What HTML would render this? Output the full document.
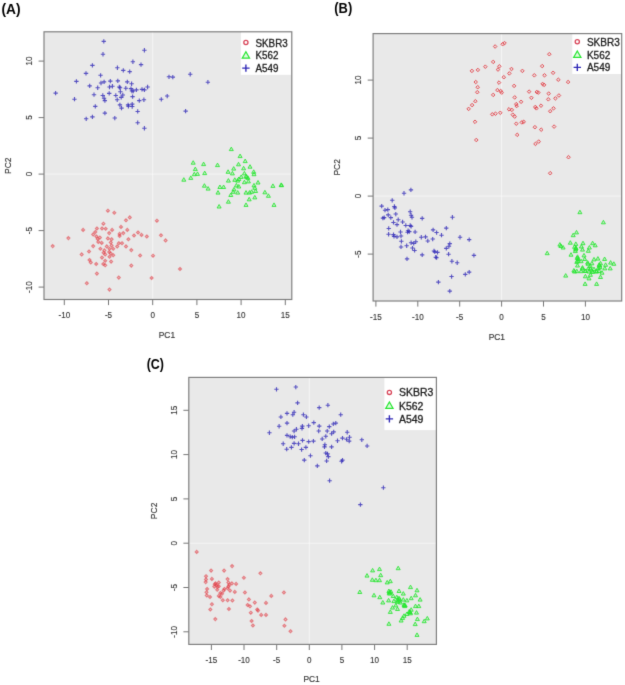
<!DOCTYPE html>
<html><head><meta charset="utf-8"><title>PCA</title>
<style>html,body{margin:0;padding:0;background:#fff}svg{display:block}</style>
</head><body>
<svg width="625" height="685" viewBox="0 0 625 685" font-family="Liberation Sans, sans-serif">
<defs><filter id="bl" x="0" y="0" width="100%" height="100%" filterUnits="userSpaceOnUse" color-interpolation-filters="sRGB"><feConvolveMatrix order="3" kernelMatrix="0.0113 0.0838 0.0113 0.0838 0.6193 0.0838 0.0113 0.0838 0.0113" edgeMode="duplicate" preserveAlpha="true"/></filter></defs>
<g filter="url(#bl)">
<rect x="-5" y="-5" width="635" height="695" fill="#fff"/>
<g>
<rect x="44" y="31.8" width="247.8" height="267.7" fill="#e9e9e9"/>
<path d="M152.7 31.8V299.5M44 174.1H291.8" stroke="#fff" stroke-width="0.7" stroke-opacity="0.8" fill="none"/>
<path d="M101.6 41.4H105.9M103.8 39.2V43.5" stroke="#2f28b6" stroke-width="1.10" stroke-opacity="0.8" fill="none"/>
<path d="M100.8 54.2H105.1M103.0 52.1V56.4" stroke="#2f28b6" stroke-width="1.10" stroke-opacity="0.8" fill="none"/>
<path d="M142.2 50.2H146.6M144.4 48.1V52.4" stroke="#2f28b6" stroke-width="1.10" stroke-opacity="0.8" fill="none"/>
<path d="M130.7 61.7H135.0M132.9 59.6V63.9" stroke="#2f28b6" stroke-width="1.10" stroke-opacity="0.8" fill="none"/>
<path d="M138.9 64.6H143.2M141.0 62.4V66.8" stroke="#2f28b6" stroke-width="1.10" stroke-opacity="0.8" fill="none"/>
<path d="M90.2 65.4H94.6M92.4 63.3V67.6" stroke="#2f28b6" stroke-width="1.10" stroke-opacity="0.8" fill="none"/>
<path d="M115.2 67.8H119.5M117.4 65.6V70.0" stroke="#2f28b6" stroke-width="1.10" stroke-opacity="0.8" fill="none"/>
<path d="M121.1 70.4H125.4M123.3 68.2V72.5" stroke="#2f28b6" stroke-width="1.10" stroke-opacity="0.8" fill="none"/>
<path d="M127.5 71.6H131.8M129.7 69.5V73.8" stroke="#2f28b6" stroke-width="1.10" stroke-opacity="0.8" fill="none"/>
<path d="M83.8 73.4H88.2M86.0 71.2V75.6" stroke="#2f28b6" stroke-width="1.10" stroke-opacity="0.8" fill="none"/>
<path d="M98.4 75.3H102.7M100.6 73.2V77.5" stroke="#2f28b6" stroke-width="1.10" stroke-opacity="0.8" fill="none"/>
<path d="M74.2 81.4H78.6M76.4 79.2V83.6" stroke="#2f28b6" stroke-width="1.10" stroke-opacity="0.8" fill="none"/>
<path d="M101.9 81.9H106.2M104.1 79.7V84.0" stroke="#2f28b6" stroke-width="1.10" stroke-opacity="0.8" fill="none"/>
<path d="M98.9 83.0H103.2M101.0 80.8V85.2" stroke="#2f28b6" stroke-width="1.10" stroke-opacity="0.8" fill="none"/>
<path d="M108.2 81.1H112.5M110.3 78.9V83.2" stroke="#2f28b6" stroke-width="1.10" stroke-opacity="0.8" fill="none"/>
<path d="M115.7 80.9H120.0M117.8 78.8V83.1" stroke="#2f28b6" stroke-width="1.10" stroke-opacity="0.8" fill="none"/>
<path d="M125.1 81.9H129.4M127.3 79.7V84.0" stroke="#2f28b6" stroke-width="1.10" stroke-opacity="0.8" fill="none"/>
<path d="M129.4 83.8H133.8M131.6 81.6V86.0" stroke="#2f28b6" stroke-width="1.10" stroke-opacity="0.8" fill="none"/>
<path d="M87.5 85.9H91.8M89.7 83.7V88.0" stroke="#2f28b6" stroke-width="1.10" stroke-opacity="0.8" fill="none"/>
<path d="M95.5 87.8H99.8M97.7 85.6V90.0" stroke="#2f28b6" stroke-width="1.10" stroke-opacity="0.8" fill="none"/>
<path d="M107.4 87.0H111.7M109.5 84.8V89.2" stroke="#2f28b6" stroke-width="1.10" stroke-opacity="0.8" fill="none"/>
<path d="M110.2 86.2H114.6M112.4 84.0V88.4" stroke="#2f28b6" stroke-width="1.10" stroke-opacity="0.8" fill="none"/>
<path d="M117.1 87.0H121.4M119.3 84.8V89.2" stroke="#2f28b6" stroke-width="1.10" stroke-opacity="0.8" fill="none"/>
<path d="M117.9 87.8H122.2M120.1 85.6V90.0" stroke="#2f28b6" stroke-width="1.10" stroke-opacity="0.8" fill="none"/>
<path d="M123.7 88.3H128.0M125.8 86.1V90.4" stroke="#2f28b6" stroke-width="1.10" stroke-opacity="0.8" fill="none"/>
<path d="M128.8 88.6H133.1M131.0 86.4V90.8" stroke="#2f28b6" stroke-width="1.10" stroke-opacity="0.8" fill="none"/>
<path d="M53.5 93.1H57.8M55.6 90.9V95.2" stroke="#2f28b6" stroke-width="1.10" stroke-opacity="0.8" fill="none"/>
<path d="M72.3 99.2H76.6M74.5 97.0V101.3" stroke="#2f28b6" stroke-width="1.10" stroke-opacity="0.8" fill="none"/>
<path d="M91.8 94.7H96.2M94.0 92.5V96.8" stroke="#2f28b6" stroke-width="1.10" stroke-opacity="0.8" fill="none"/>
<path d="M100.6 95.5H105.0M102.8 93.3V97.6" stroke="#2f28b6" stroke-width="1.10" stroke-opacity="0.8" fill="none"/>
<path d="M101.9 98.2H106.2M104.1 96.0V100.4" stroke="#2f28b6" stroke-width="1.10" stroke-opacity="0.8" fill="none"/>
<path d="M102.7 100.6H107.0M104.9 98.4V102.8" stroke="#2f28b6" stroke-width="1.10" stroke-opacity="0.8" fill="none"/>
<path d="M107.0 93.4H111.4M109.2 91.2V95.6" stroke="#2f28b6" stroke-width="1.10" stroke-opacity="0.8" fill="none"/>
<path d="M113.6 95.5H117.9M115.8 93.3V97.6" stroke="#2f28b6" stroke-width="1.10" stroke-opacity="0.8" fill="none"/>
<path d="M115.0 99.8H119.4M117.2 97.6V102.0" stroke="#2f28b6" stroke-width="1.10" stroke-opacity="0.8" fill="none"/>
<path d="M118.2 91.8H122.6M120.4 89.6V94.0" stroke="#2f28b6" stroke-width="1.10" stroke-opacity="0.8" fill="none"/>
<path d="M120.6 95.0H125.0M122.8 92.8V97.2" stroke="#2f28b6" stroke-width="1.10" stroke-opacity="0.8" fill="none"/>
<path d="M119.0 97.4H123.4M121.2 95.2V99.6" stroke="#2f28b6" stroke-width="1.10" stroke-opacity="0.8" fill="none"/>
<path d="M129.8 91.0H134.1M131.9 88.8V93.2" stroke="#2f28b6" stroke-width="1.10" stroke-opacity="0.8" fill="none"/>
<path d="M131.0 91.0H135.3M133.2 88.8V93.2" stroke="#2f28b6" stroke-width="1.10" stroke-opacity="0.8" fill="none"/>
<path d="M134.2 89.9H138.6M136.4 87.7V92.0" stroke="#2f28b6" stroke-width="1.10" stroke-opacity="0.8" fill="none"/>
<path d="M139.8 89.4H144.2M142.0 87.2V91.6" stroke="#2f28b6" stroke-width="1.10" stroke-opacity="0.8" fill="none"/>
<path d="M142.2 89.9H146.6M144.4 87.7V92.0" stroke="#2f28b6" stroke-width="1.10" stroke-opacity="0.8" fill="none"/>
<path d="M145.4 87.0H149.8M147.6 84.8V89.2" stroke="#2f28b6" stroke-width="1.10" stroke-opacity="0.8" fill="none"/>
<path d="M130.4 96.6H134.7M132.6 94.4V98.8" stroke="#2f28b6" stroke-width="1.10" stroke-opacity="0.8" fill="none"/>
<path d="M137.1 100.6H141.4M139.3 98.4V102.8" stroke="#2f28b6" stroke-width="1.10" stroke-opacity="0.8" fill="none"/>
<path d="M141.8 99.8H146.1M143.9 97.6V102.0" stroke="#2f28b6" stroke-width="1.10" stroke-opacity="0.8" fill="none"/>
<path d="M93.1 106.4H97.4M95.3 104.2V108.5" stroke="#2f28b6" stroke-width="1.10" stroke-opacity="0.8" fill="none"/>
<path d="M117.8 104.9H122.1M119.9 102.8V107.1" stroke="#2f28b6" stroke-width="1.10" stroke-opacity="0.8" fill="none"/>
<path d="M119.4 108.1H123.7M121.5 106.0V110.3" stroke="#2f28b6" stroke-width="1.10" stroke-opacity="0.8" fill="none"/>
<path d="M125.9 104.9H130.2M128.1 102.8V107.1" stroke="#2f28b6" stroke-width="1.10" stroke-opacity="0.8" fill="none"/>
<path d="M130.1 104.1H134.4M132.2 102.0V106.3" stroke="#2f28b6" stroke-width="1.10" stroke-opacity="0.8" fill="none"/>
<path d="M126.2 106.2H130.6M128.4 104.0V108.4" stroke="#2f28b6" stroke-width="1.10" stroke-opacity="0.8" fill="none"/>
<path d="M130.1 106.5H134.4M132.2 104.4V108.7" stroke="#2f28b6" stroke-width="1.10" stroke-opacity="0.8" fill="none"/>
<path d="M135.5 111.5H139.8M137.7 109.3V113.6" stroke="#2f28b6" stroke-width="1.10" stroke-opacity="0.8" fill="none"/>
<path d="M102.7 113.1H107.0M104.9 110.9V115.2" stroke="#2f28b6" stroke-width="1.10" stroke-opacity="0.8" fill="none"/>
<path d="M112.6 118.0H117.0M114.8 115.9V120.2" stroke="#2f28b6" stroke-width="1.10" stroke-opacity="0.8" fill="none"/>
<path d="M84.0 118.8H88.3M86.2 116.7V121.0" stroke="#2f28b6" stroke-width="1.10" stroke-opacity="0.8" fill="none"/>
<path d="M90.2 116.9H94.6M92.4 114.8V119.1" stroke="#2f28b6" stroke-width="1.10" stroke-opacity="0.8" fill="none"/>
<path d="M135.5 122.7H139.8M137.7 120.5V124.8" stroke="#2f28b6" stroke-width="1.10" stroke-opacity="0.8" fill="none"/>
<path d="M142.2 128.3H146.6M144.4 126.1V130.4" stroke="#2f28b6" stroke-width="1.10" stroke-opacity="0.8" fill="none"/>
<path d="M166.8 76.8H171.1M169.0 74.7V79.0" stroke="#2f28b6" stroke-width="1.10" stroke-opacity="0.8" fill="none"/>
<path d="M170.7 77.1H175.0M172.8 74.9V79.2" stroke="#2f28b6" stroke-width="1.10" stroke-opacity="0.8" fill="none"/>
<path d="M188.1 74.2H192.4M190.2 72.1V76.4" stroke="#2f28b6" stroke-width="1.10" stroke-opacity="0.8" fill="none"/>
<path d="M205.7 82.2H210.0M207.9 80.0V84.3" stroke="#2f28b6" stroke-width="1.10" stroke-opacity="0.8" fill="none"/>
<path d="M165.0 96.0H169.3M167.2 93.9V98.2" stroke="#2f28b6" stroke-width="1.10" stroke-opacity="0.8" fill="none"/>
<path d="M159.1 99.3H163.4M161.3 97.2V101.5" stroke="#2f28b6" stroke-width="1.10" stroke-opacity="0.8" fill="none"/>
<path d="M183.5 111.1H187.8M185.6 109.0V113.3" stroke="#2f28b6" stroke-width="1.10" stroke-opacity="0.8" fill="none"/>
<path d="M107.9 209.2L109.4 210.7L107.9 212.2L106.4 210.7Z" stroke="#e24048" stroke-width="1.10" stroke-opacity="0.62" fill="#e24048" fill-opacity="0.19"/>
<path d="M114.3 211.3L115.8 212.8L114.3 214.3L112.8 212.8Z" stroke="#e24048" stroke-width="1.10" stroke-opacity="0.62" fill="#e24048" fill-opacity="0.19"/>
<path d="M129.8 215.9L131.3 217.4L129.8 218.9L128.3 217.4Z" stroke="#e24048" stroke-width="1.10" stroke-opacity="0.62" fill="#e24048" fill-opacity="0.19"/>
<path d="M126.0 218.8L127.5 220.3L126.0 221.8L124.5 220.3Z" stroke="#e24048" stroke-width="1.10" stroke-opacity="0.62" fill="#e24048" fill-opacity="0.19"/>
<path d="M103.4 222.2L104.9 223.7L103.4 225.2L101.9 223.7Z" stroke="#e24048" stroke-width="1.10" stroke-opacity="0.62" fill="#e24048" fill-opacity="0.19"/>
<path d="M121.0 225.4L122.5 226.9L121.0 228.4L119.5 226.9Z" stroke="#e24048" stroke-width="1.10" stroke-opacity="0.62" fill="#e24048" fill-opacity="0.19"/>
<path d="M83.1 228.4L84.6 229.9L83.1 231.4L81.6 229.9Z" stroke="#e24048" stroke-width="1.10" stroke-opacity="0.62" fill="#e24048" fill-opacity="0.19"/>
<path d="M96.9 227.0L98.4 228.5L96.9 230.0L95.4 228.5Z" stroke="#e24048" stroke-width="1.10" stroke-opacity="0.62" fill="#e24048" fill-opacity="0.19"/>
<path d="M102.0 227.0L103.5 228.5L102.0 230.0L100.5 228.5Z" stroke="#e24048" stroke-width="1.10" stroke-opacity="0.62" fill="#e24048" fill-opacity="0.19"/>
<path d="M105.7 227.3L107.2 228.8L105.7 230.3L104.2 228.8Z" stroke="#e24048" stroke-width="1.10" stroke-opacity="0.62" fill="#e24048" fill-opacity="0.19"/>
<path d="M112.1 228.4L113.6 229.9L112.1 231.4L110.6 229.9Z" stroke="#e24048" stroke-width="1.10" stroke-opacity="0.62" fill="#e24048" fill-opacity="0.19"/>
<path d="M127.3 228.4L128.8 229.9L127.3 231.4L125.8 229.9Z" stroke="#e24048" stroke-width="1.10" stroke-opacity="0.62" fill="#e24048" fill-opacity="0.19"/>
<path d="M95.3 230.5L96.8 232.0L95.3 233.5L93.8 232.0Z" stroke="#e24048" stroke-width="1.10" stroke-opacity="0.62" fill="#e24048" fill-opacity="0.19"/>
<path d="M93.2 232.9L94.7 234.4L93.2 235.9L91.7 234.4Z" stroke="#e24048" stroke-width="1.10" stroke-opacity="0.62" fill="#e24048" fill-opacity="0.19"/>
<path d="M96.4 235.0L97.9 236.5L96.4 238.0L94.9 236.5Z" stroke="#e24048" stroke-width="1.10" stroke-opacity="0.62" fill="#e24048" fill-opacity="0.19"/>
<path d="M109.2 231.6L110.7 233.1L109.2 234.6L107.7 233.1Z" stroke="#e24048" stroke-width="1.10" stroke-opacity="0.62" fill="#e24048" fill-opacity="0.19"/>
<path d="M119.6 232.4L121.1 233.9L119.6 235.4L118.1 233.9Z" stroke="#e24048" stroke-width="1.10" stroke-opacity="0.62" fill="#e24048" fill-opacity="0.19"/>
<path d="M123.3 231.6L124.8 233.1L123.3 234.6L121.8 233.1Z" stroke="#e24048" stroke-width="1.10" stroke-opacity="0.62" fill="#e24048" fill-opacity="0.19"/>
<path d="M138.0 231.0L139.5 232.5L138.0 234.0L136.5 232.5Z" stroke="#e24048" stroke-width="1.10" stroke-opacity="0.62" fill="#e24048" fill-opacity="0.19"/>
<path d="M141.5 233.4L143.0 234.9L141.5 236.4L140.0 234.9Z" stroke="#e24048" stroke-width="1.10" stroke-opacity="0.62" fill="#e24048" fill-opacity="0.19"/>
<path d="M134.0 234.0L135.5 235.5L134.0 237.0L132.5 235.5Z" stroke="#e24048" stroke-width="1.10" stroke-opacity="0.62" fill="#e24048" fill-opacity="0.19"/>
<path d="M146.8 235.0L148.3 236.5L146.8 238.0L145.3 236.5Z" stroke="#e24048" stroke-width="1.10" stroke-opacity="0.62" fill="#e24048" fill-opacity="0.19"/>
<path d="M68.4 236.6L69.9 238.1L68.4 239.6L66.9 238.1Z" stroke="#e24048" stroke-width="1.10" stroke-opacity="0.62" fill="#e24048" fill-opacity="0.19"/>
<path d="M97.7 237.4L99.2 238.9L97.7 240.4L96.2 238.9Z" stroke="#e24048" stroke-width="1.10" stroke-opacity="0.62" fill="#e24048" fill-opacity="0.19"/>
<path d="M99.9 236.1L101.4 237.6L99.9 239.1L98.4 237.6Z" stroke="#e24048" stroke-width="1.10" stroke-opacity="0.62" fill="#e24048" fill-opacity="0.19"/>
<path d="M107.9 236.9L109.4 238.4L107.9 239.9L106.4 238.4Z" stroke="#e24048" stroke-width="1.10" stroke-opacity="0.62" fill="#e24048" fill-opacity="0.19"/>
<path d="M111.6 237.7L113.1 239.2L111.6 240.7L110.1 239.2Z" stroke="#e24048" stroke-width="1.10" stroke-opacity="0.62" fill="#e24048" fill-opacity="0.19"/>
<path d="M119.6 234.5L121.1 236.0L119.6 237.5L118.1 236.0Z" stroke="#e24048" stroke-width="1.10" stroke-opacity="0.62" fill="#e24048" fill-opacity="0.19"/>
<path d="M128.4 237.7L129.9 239.2L128.4 240.7L126.9 239.2Z" stroke="#e24048" stroke-width="1.10" stroke-opacity="0.62" fill="#e24048" fill-opacity="0.19"/>
<path d="M98.3 240.4L99.8 241.9L98.3 243.4L96.8 241.9Z" stroke="#e24048" stroke-width="1.10" stroke-opacity="0.62" fill="#e24048" fill-opacity="0.19"/>
<path d="M101.7 241.4L103.2 242.9L101.7 244.4L100.2 242.9Z" stroke="#e24048" stroke-width="1.10" stroke-opacity="0.62" fill="#e24048" fill-opacity="0.19"/>
<path d="M110.8 240.9L112.3 242.4L110.8 243.9L109.3 242.4Z" stroke="#e24048" stroke-width="1.10" stroke-opacity="0.62" fill="#e24048" fill-opacity="0.19"/>
<path d="M118.8 241.7L120.3 243.2L118.8 244.7L117.3 243.2Z" stroke="#e24048" stroke-width="1.10" stroke-opacity="0.62" fill="#e24048" fill-opacity="0.19"/>
<path d="M122.0 241.7L123.5 243.2L122.0 244.7L120.5 243.2Z" stroke="#e24048" stroke-width="1.10" stroke-opacity="0.62" fill="#e24048" fill-opacity="0.19"/>
<path d="M52.7 244.6L54.2 246.1L52.7 247.6L51.2 246.1Z" stroke="#e24048" stroke-width="1.10" stroke-opacity="0.62" fill="#e24048" fill-opacity="0.19"/>
<path d="M93.2 244.6L94.7 246.1L93.2 247.6L91.7 246.1Z" stroke="#e24048" stroke-width="1.10" stroke-opacity="0.62" fill="#e24048" fill-opacity="0.19"/>
<path d="M106.8 244.9L108.3 246.4L106.8 247.9L105.3 246.4Z" stroke="#e24048" stroke-width="1.10" stroke-opacity="0.62" fill="#e24048" fill-opacity="0.19"/>
<path d="M111.6 244.1L113.1 245.6L111.6 247.1L110.1 245.6Z" stroke="#e24048" stroke-width="1.10" stroke-opacity="0.62" fill="#e24048" fill-opacity="0.19"/>
<path d="M117.2 244.9L118.7 246.4L117.2 247.9L115.7 246.4Z" stroke="#e24048" stroke-width="1.10" stroke-opacity="0.62" fill="#e24048" fill-opacity="0.19"/>
<path d="M126.0 244.9L127.5 246.4L126.0 247.9L124.5 246.4Z" stroke="#e24048" stroke-width="1.10" stroke-opacity="0.62" fill="#e24048" fill-opacity="0.19"/>
<path d="M100.4 247.3L101.9 248.8L100.4 250.3L98.9 248.8Z" stroke="#e24048" stroke-width="1.10" stroke-opacity="0.62" fill="#e24048" fill-opacity="0.19"/>
<path d="M104.4 248.9L105.9 250.4L104.4 251.9L102.9 250.4Z" stroke="#e24048" stroke-width="1.10" stroke-opacity="0.62" fill="#e24048" fill-opacity="0.19"/>
<path d="M109.5 247.3L111.0 248.8L109.5 250.3L108.0 248.8Z" stroke="#e24048" stroke-width="1.10" stroke-opacity="0.62" fill="#e24048" fill-opacity="0.19"/>
<path d="M113.2 247.3L114.7 248.8L113.2 250.3L111.7 248.8Z" stroke="#e24048" stroke-width="1.10" stroke-opacity="0.62" fill="#e24048" fill-opacity="0.19"/>
<path d="M131.3 248.6L132.8 250.1L131.3 251.6L129.8 250.1Z" stroke="#e24048" stroke-width="1.10" stroke-opacity="0.62" fill="#e24048" fill-opacity="0.19"/>
<path d="M89.0 250.0L90.5 251.5L89.0 253.0L87.5 251.5Z" stroke="#e24048" stroke-width="1.10" stroke-opacity="0.62" fill="#e24048" fill-opacity="0.19"/>
<path d="M103.6 251.3L105.1 252.8L103.6 254.3L102.1 252.8Z" stroke="#e24048" stroke-width="1.10" stroke-opacity="0.62" fill="#e24048" fill-opacity="0.19"/>
<path d="M109.2 250.5L110.7 252.0L109.2 253.5L107.7 252.0Z" stroke="#e24048" stroke-width="1.10" stroke-opacity="0.62" fill="#e24048" fill-opacity="0.19"/>
<path d="M110.8 252.1L112.3 253.6L110.8 255.1L109.3 253.6Z" stroke="#e24048" stroke-width="1.10" stroke-opacity="0.62" fill="#e24048" fill-opacity="0.19"/>
<path d="M81.7 252.9L83.2 254.4L81.7 255.9L80.2 254.4Z" stroke="#e24048" stroke-width="1.10" stroke-opacity="0.62" fill="#e24048" fill-opacity="0.19"/>
<path d="M105.2 252.9L106.7 254.4L105.2 255.9L103.7 254.4Z" stroke="#e24048" stroke-width="1.10" stroke-opacity="0.62" fill="#e24048" fill-opacity="0.19"/>
<path d="M113.2 253.7L114.7 255.2L113.2 256.7L111.7 255.2Z" stroke="#e24048" stroke-width="1.10" stroke-opacity="0.62" fill="#e24048" fill-opacity="0.19"/>
<path d="M109.5 255.3L111.0 256.8L109.5 258.3L108.0 256.8Z" stroke="#e24048" stroke-width="1.10" stroke-opacity="0.62" fill="#e24048" fill-opacity="0.19"/>
<path d="M102.0 256.1L103.5 257.6L102.0 259.1L100.5 257.6Z" stroke="#e24048" stroke-width="1.10" stroke-opacity="0.62" fill="#e24048" fill-opacity="0.19"/>
<path d="M140.1 254.0L141.6 255.5L140.1 257.0L138.6 255.5Z" stroke="#e24048" stroke-width="1.10" stroke-opacity="0.62" fill="#e24048" fill-opacity="0.19"/>
<path d="M89.5 258.5L91.0 260.0L89.5 261.5L88.0 260.0Z" stroke="#e24048" stroke-width="1.10" stroke-opacity="0.62" fill="#e24048" fill-opacity="0.19"/>
<path d="M90.8 260.9L92.3 262.4L90.8 263.9L89.3 262.4Z" stroke="#e24048" stroke-width="1.10" stroke-opacity="0.62" fill="#e24048" fill-opacity="0.19"/>
<path d="M105.2 259.3L106.7 260.8L105.2 262.3L103.7 260.8Z" stroke="#e24048" stroke-width="1.10" stroke-opacity="0.62" fill="#e24048" fill-opacity="0.19"/>
<path d="M111.1 260.1L112.6 261.6L111.1 263.1L109.6 261.6Z" stroke="#e24048" stroke-width="1.10" stroke-opacity="0.62" fill="#e24048" fill-opacity="0.19"/>
<path d="M96.2 262.5L97.7 264.0L96.2 265.5L94.7 264.0Z" stroke="#e24048" stroke-width="1.10" stroke-opacity="0.62" fill="#e24048" fill-opacity="0.19"/>
<path d="M103.3 262.5L104.8 264.0L103.3 265.5L101.8 264.0Z" stroke="#e24048" stroke-width="1.10" stroke-opacity="0.62" fill="#e24048" fill-opacity="0.19"/>
<path d="M105.2 263.8L106.7 265.3L105.2 266.8L103.7 265.3Z" stroke="#e24048" stroke-width="1.10" stroke-opacity="0.62" fill="#e24048" fill-opacity="0.19"/>
<path d="M131.3 264.1L132.8 265.6L131.3 267.1L129.8 265.6Z" stroke="#e24048" stroke-width="1.10" stroke-opacity="0.62" fill="#e24048" fill-opacity="0.19"/>
<path d="M96.9 272.1L98.4 273.6L96.9 275.1L95.4 273.6Z" stroke="#e24048" stroke-width="1.10" stroke-opacity="0.62" fill="#e24048" fill-opacity="0.19"/>
<path d="M118.8 276.1L120.3 277.6L118.8 279.1L117.3 277.6Z" stroke="#e24048" stroke-width="1.10" stroke-opacity="0.62" fill="#e24048" fill-opacity="0.19"/>
<path d="M86.8 281.7L88.3 283.2L86.8 284.7L85.3 283.2Z" stroke="#e24048" stroke-width="1.10" stroke-opacity="0.62" fill="#e24048" fill-opacity="0.19"/>
<path d="M109.5 288.1L111.0 289.6L109.5 291.1L108.0 289.6Z" stroke="#e24048" stroke-width="1.10" stroke-opacity="0.62" fill="#e24048" fill-opacity="0.19"/>
<path d="M156.9 219.2L158.4 220.7L156.9 222.2L155.4 220.7Z" stroke="#e24048" stroke-width="1.10" stroke-opacity="0.62" fill="#e24048" fill-opacity="0.19"/>
<path d="M161.0 233.8L162.5 235.3L161.0 236.8L159.5 235.3Z" stroke="#e24048" stroke-width="1.10" stroke-opacity="0.62" fill="#e24048" fill-opacity="0.19"/>
<path d="M165.6 238.9L167.1 240.4L165.6 241.9L164.1 240.4Z" stroke="#e24048" stroke-width="1.10" stroke-opacity="0.62" fill="#e24048" fill-opacity="0.19"/>
<path d="M180.0 267.5L181.5 269.0L180.0 270.5L178.5 269.0Z" stroke="#e24048" stroke-width="1.10" stroke-opacity="0.62" fill="#e24048" fill-opacity="0.19"/>
<path d="M153.0 254.2L154.5 255.7L153.0 257.2L151.5 255.7Z" stroke="#e24048" stroke-width="1.10" stroke-opacity="0.62" fill="#e24048" fill-opacity="0.19"/>
<path d="M151.6 276.5L153.1 278.0L151.6 279.5L150.1 278.0Z" stroke="#e24048" stroke-width="1.10" stroke-opacity="0.62" fill="#e24048" fill-opacity="0.19"/>
<path d="M231.3 147.1L233.3 150.6H229.3Z" stroke="#26e630" stroke-width="1.00" stroke-opacity="0.85" fill="#26e630" fill-opacity="0.20"/>
<path d="M240.1 154.1L242.1 157.6H238.1Z" stroke="#26e630" stroke-width="1.00" stroke-opacity="0.85" fill="#26e630" fill-opacity="0.20"/>
<path d="M245.2 159.1L247.2 162.6H243.2Z" stroke="#26e630" stroke-width="1.00" stroke-opacity="0.85" fill="#26e630" fill-opacity="0.20"/>
<path d="M193.2 160.7L195.2 164.2H191.2Z" stroke="#26e630" stroke-width="1.00" stroke-opacity="0.85" fill="#26e630" fill-opacity="0.20"/>
<path d="M203.6 162.1L205.6 165.6H201.6Z" stroke="#26e630" stroke-width="1.00" stroke-opacity="0.85" fill="#26e630" fill-opacity="0.20"/>
<path d="M217.5 163.1L219.5 166.6H215.5Z" stroke="#26e630" stroke-width="1.00" stroke-opacity="0.85" fill="#26e630" fill-opacity="0.20"/>
<path d="M238.5 162.3L240.5 165.8H236.5Z" stroke="#26e630" stroke-width="1.00" stroke-opacity="0.85" fill="#26e630" fill-opacity="0.20"/>
<path d="M250.0 164.7L252.0 168.2H248.0Z" stroke="#26e630" stroke-width="1.00" stroke-opacity="0.85" fill="#26e630" fill-opacity="0.20"/>
<path d="M195.3 167.1L197.3 170.6H193.3Z" stroke="#26e630" stroke-width="1.00" stroke-opacity="0.85" fill="#26e630" fill-opacity="0.20"/>
<path d="M233.7 166.6L235.7 170.1H231.7Z" stroke="#26e630" stroke-width="1.00" stroke-opacity="0.85" fill="#26e630" fill-opacity="0.20"/>
<path d="M243.6 166.3L245.6 169.8H241.6Z" stroke="#26e630" stroke-width="1.00" stroke-opacity="0.85" fill="#26e630" fill-opacity="0.20"/>
<path d="M228.1 169.8L230.1 173.3H226.1Z" stroke="#26e630" stroke-width="1.00" stroke-opacity="0.85" fill="#26e630" fill-opacity="0.20"/>
<path d="M204.7 171.1L206.7 174.6H202.7Z" stroke="#26e630" stroke-width="1.00" stroke-opacity="0.85" fill="#26e630" fill-opacity="0.20"/>
<path d="M253.7 169.8L255.7 173.3H251.7Z" stroke="#26e630" stroke-width="1.00" stroke-opacity="0.85" fill="#26e630" fill-opacity="0.20"/>
<path d="M197.5 171.9L199.5 175.4H195.5Z" stroke="#26e630" stroke-width="1.00" stroke-opacity="0.85" fill="#26e630" fill-opacity="0.20"/>
<path d="M194.3 172.2L196.3 175.7H192.3Z" stroke="#26e630" stroke-width="1.00" stroke-opacity="0.85" fill="#26e630" fill-opacity="0.20"/>
<path d="M232.4 171.4L234.4 174.9H230.4Z" stroke="#26e630" stroke-width="1.00" stroke-opacity="0.85" fill="#26e630" fill-opacity="0.20"/>
<path d="M244.4 171.4L246.4 174.9H242.4Z" stroke="#26e630" stroke-width="1.00" stroke-opacity="0.85" fill="#26e630" fill-opacity="0.20"/>
<path d="M254.0 172.2L256.0 175.7H252.0Z" stroke="#26e630" stroke-width="1.00" stroke-opacity="0.85" fill="#26e630" fill-opacity="0.20"/>
<path d="M190.8 175.9L192.8 179.4H188.8Z" stroke="#26e630" stroke-width="1.00" stroke-opacity="0.85" fill="#26e630" fill-opacity="0.20"/>
<path d="M241.2 174.9L243.2 178.4H239.2Z" stroke="#26e630" stroke-width="1.00" stroke-opacity="0.85" fill="#26e630" fill-opacity="0.20"/>
<path d="M246.8 174.9L248.8 178.4H244.8Z" stroke="#26e630" stroke-width="1.00" stroke-opacity="0.85" fill="#26e630" fill-opacity="0.20"/>
<path d="M247.9 175.9L249.9 179.4H245.9Z" stroke="#26e630" stroke-width="1.00" stroke-opacity="0.85" fill="#26e630" fill-opacity="0.20"/>
<path d="M246.0 174.3L248.0 177.8H244.0Z" stroke="#26e630" stroke-width="1.00" stroke-opacity="0.85" fill="#26e630" fill-opacity="0.20"/>
<path d="M238.8 177.0L240.8 180.5H236.8Z" stroke="#26e630" stroke-width="1.00" stroke-opacity="0.85" fill="#26e630" fill-opacity="0.20"/>
<path d="M237.7 178.6L239.7 182.1H235.7Z" stroke="#26e630" stroke-width="1.00" stroke-opacity="0.85" fill="#26e630" fill-opacity="0.20"/>
<path d="M228.4 178.6L230.4 182.1H226.4Z" stroke="#26e630" stroke-width="1.00" stroke-opacity="0.85" fill="#26e630" fill-opacity="0.20"/>
<path d="M234.8 177.8L236.8 181.3H232.8Z" stroke="#26e630" stroke-width="1.00" stroke-opacity="0.85" fill="#26e630" fill-opacity="0.20"/>
<path d="M244.4 180.2L246.4 183.7H242.4Z" stroke="#26e630" stroke-width="1.00" stroke-opacity="0.85" fill="#26e630" fill-opacity="0.20"/>
<path d="M248.4 179.4L250.4 182.9H246.4Z" stroke="#26e630" stroke-width="1.00" stroke-opacity="0.85" fill="#26e630" fill-opacity="0.20"/>
<path d="M258.0 180.5L260.0 184.0H256.0Z" stroke="#26e630" stroke-width="1.00" stroke-opacity="0.85" fill="#26e630" fill-opacity="0.20"/>
<path d="M204.4 183.7L206.4 187.2H202.4Z" stroke="#26e630" stroke-width="1.00" stroke-opacity="0.85" fill="#26e630" fill-opacity="0.20"/>
<path d="M208.1 186.6L210.1 190.1H206.1Z" stroke="#26e630" stroke-width="1.00" stroke-opacity="0.85" fill="#26e630" fill-opacity="0.20"/>
<path d="M219.9 185.0L221.9 188.5H217.9Z" stroke="#26e630" stroke-width="1.00" stroke-opacity="0.85" fill="#26e630" fill-opacity="0.20"/>
<path d="M223.6 185.0L225.6 188.5H221.6Z" stroke="#26e630" stroke-width="1.00" stroke-opacity="0.85" fill="#26e630" fill-opacity="0.20"/>
<path d="M236.4 183.4L238.4 186.9H234.4Z" stroke="#26e630" stroke-width="1.00" stroke-opacity="0.85" fill="#26e630" fill-opacity="0.20"/>
<path d="M238.8 184.5L240.8 188.0H236.8Z" stroke="#26e630" stroke-width="1.00" stroke-opacity="0.85" fill="#26e630" fill-opacity="0.20"/>
<path d="M254.0 183.4L256.0 186.9H252.0Z" stroke="#26e630" stroke-width="1.00" stroke-opacity="0.85" fill="#26e630" fill-opacity="0.20"/>
<path d="M254.8 185.8L256.8 189.3H252.8Z" stroke="#26e630" stroke-width="1.00" stroke-opacity="0.85" fill="#26e630" fill-opacity="0.20"/>
<path d="M272.9 183.9L274.9 187.4H270.9Z" stroke="#26e630" stroke-width="1.00" stroke-opacity="0.85" fill="#26e630" fill-opacity="0.20"/>
<path d="M281.2 182.9L283.2 186.4H279.2Z" stroke="#26e630" stroke-width="1.00" stroke-opacity="0.85" fill="#26e630" fill-opacity="0.20"/>
<path d="M281.5 183.2L283.5 186.7H279.5Z" stroke="#26e630" stroke-width="1.00" stroke-opacity="0.85" fill="#26e630" fill-opacity="0.20"/>
<path d="M234.0 187.4L236.0 190.9H232.0Z" stroke="#26e630" stroke-width="1.00" stroke-opacity="0.85" fill="#26e630" fill-opacity="0.20"/>
<path d="M218.0 190.6L220.0 194.1H216.0Z" stroke="#26e630" stroke-width="1.00" stroke-opacity="0.85" fill="#26e630" fill-opacity="0.20"/>
<path d="M230.8 193.0L232.8 196.5H228.8Z" stroke="#26e630" stroke-width="1.00" stroke-opacity="0.85" fill="#26e630" fill-opacity="0.20"/>
<path d="M233.2 189.8L235.2 193.3H231.2Z" stroke="#26e630" stroke-width="1.00" stroke-opacity="0.85" fill="#26e630" fill-opacity="0.20"/>
<path d="M237.7 190.6L239.7 194.1H235.7Z" stroke="#26e630" stroke-width="1.00" stroke-opacity="0.85" fill="#26e630" fill-opacity="0.20"/>
<path d="M246.0 190.6L248.0 194.1H244.0Z" stroke="#26e630" stroke-width="1.00" stroke-opacity="0.85" fill="#26e630" fill-opacity="0.20"/>
<path d="M249.5 190.6L251.5 194.1H247.5Z" stroke="#26e630" stroke-width="1.00" stroke-opacity="0.85" fill="#26e630" fill-opacity="0.20"/>
<path d="M251.6 189.8L253.6 193.3H249.6Z" stroke="#26e630" stroke-width="1.00" stroke-opacity="0.85" fill="#26e630" fill-opacity="0.20"/>
<path d="M255.6 189.0L257.6 192.5H253.6Z" stroke="#26e630" stroke-width="1.00" stroke-opacity="0.85" fill="#26e630" fill-opacity="0.20"/>
<path d="M264.9 190.3L266.9 193.8H262.9Z" stroke="#26e630" stroke-width="1.00" stroke-opacity="0.85" fill="#26e630" fill-opacity="0.20"/>
<path d="M268.4 193.8L270.4 197.3H266.4Z" stroke="#26e630" stroke-width="1.00" stroke-opacity="0.85" fill="#26e630" fill-opacity="0.20"/>
<path d="M254.8 195.4L256.8 198.9H252.8Z" stroke="#26e630" stroke-width="1.00" stroke-opacity="0.85" fill="#26e630" fill-opacity="0.20"/>
<path d="M249.2 197.3L251.2 200.8H247.2Z" stroke="#26e630" stroke-width="1.00" stroke-opacity="0.85" fill="#26e630" fill-opacity="0.20"/>
<path d="M228.4 199.7L230.4 203.2H226.4Z" stroke="#26e630" stroke-width="1.00" stroke-opacity="0.85" fill="#26e630" fill-opacity="0.20"/>
<path d="M219.1 204.5L221.1 208.0H217.1Z" stroke="#26e630" stroke-width="1.00" stroke-opacity="0.85" fill="#26e630" fill-opacity="0.20"/>
<path d="M246.0 202.9L248.0 206.4H244.0Z" stroke="#26e630" stroke-width="1.00" stroke-opacity="0.85" fill="#26e630" fill-opacity="0.20"/>
<path d="M274.0 202.9L276.0 206.4H272.0Z" stroke="#26e630" stroke-width="1.00" stroke-opacity="0.85" fill="#26e630" fill-opacity="0.20"/>
<path d="M183.8 177.7L185.8 181.2H181.8Z" stroke="#26e630" stroke-width="1.00" stroke-opacity="0.85" fill="#26e630" fill-opacity="0.20"/>
<path d="M64.3 299.5v5.6M108.5 299.5v5.6M152.7 299.5v5.6M196.9 299.5v5.6M241.1 299.5v5.6M285.3 299.5v5.6M44 287.1h-5.4M44 230.6h-5.4M44 174.1h-5.4M44 117.6h-5.4M44 61.1h-5.4" stroke="#686868" stroke-width="0.9" fill="none"/>
<text transform="translate(64.3 317.7) scale(0.9 1)" font-size="9" fill="#333333" stroke="#333333" stroke-width="0.12" text-anchor="middle">-10</text>
<text transform="translate(108.5 317.7) scale(0.9 1)" font-size="9" fill="#333333" stroke="#333333" stroke-width="0.12" text-anchor="middle">-5</text>
<text transform="translate(152.7 317.7) scale(0.9 1)" font-size="9" fill="#333333" stroke="#333333" stroke-width="0.12" text-anchor="middle">0</text>
<text transform="translate(196.9 317.7) scale(0.9 1)" font-size="9" fill="#333333" stroke="#333333" stroke-width="0.12" text-anchor="middle">5</text>
<text transform="translate(241.1 317.7) scale(0.9 1)" font-size="9" fill="#333333" stroke="#333333" stroke-width="0.12" text-anchor="middle">10</text>
<text transform="translate(285.3 317.7) scale(0.9 1)" font-size="9" fill="#333333" stroke="#333333" stroke-width="0.12" text-anchor="middle">15</text>
<text transform="translate(32.2 287.1) rotate(-90) scale(0.9 1)" font-size="9" fill="#333333" stroke="#333333" stroke-width="0.12" text-anchor="middle">-10</text>
<text transform="translate(32.2 230.6) rotate(-90) scale(0.9 1)" font-size="9" fill="#333333" stroke="#333333" stroke-width="0.12" text-anchor="middle">-5</text>
<text transform="translate(32.2 174.1) rotate(-90) scale(0.9 1)" font-size="9" fill="#333333" stroke="#333333" stroke-width="0.12" text-anchor="middle">0</text>
<text transform="translate(32.2 117.6) rotate(-90) scale(0.9 1)" font-size="9" fill="#333333" stroke="#333333" stroke-width="0.12" text-anchor="middle">5</text>
<text transform="translate(32.2 61.1) rotate(-90) scale(0.9 1)" font-size="9" fill="#333333" stroke="#333333" stroke-width="0.12" text-anchor="middle">10</text>
<text x="166.9" y="337.8" font-size="8.4" fill="#333333" stroke="#333333" stroke-width="0.15" text-anchor="middle">PC1</text>
<text transform="translate(11.0 165.7) rotate(-90)" font-size="8.5" fill="#333333" stroke="#333333" stroke-width="0.15" text-anchor="middle">PC2</text>
<rect x="240.9" y="31.8" width="50.2" height="43" fill="#fff"/>
<circle cx="245.9" cy="42.5" r="2.10" stroke="#d84458" stroke-width="1.30" fill="none"/>
<text transform="translate(255.5 46.5) scale(0.985 1)" font-size="10" fill="#1c1c1c" stroke="#1c1c1c" stroke-width="0.3">SKBR3</text>
<path d="M245.9 51.7L249.5 58.0H242.3Z" stroke="#26e630" stroke-width="1.25" stroke-opacity="1" fill="#26e630" fill-opacity="0.15"/>
<text transform="translate(255.5 59.3) scale(0.985 1)" font-size="10" fill="#1c1c1c" stroke="#1c1c1c" stroke-width="0.3">K562</text>
<path d="M242.2 68.1H249.6M245.9 64.4V71.8" stroke="#2f28b6" stroke-width="1.38" stroke-opacity="1" fill="none"/>
<text transform="translate(255.5 72.1) scale(0.985 1)" font-size="10" fill="#1c1c1c" stroke="#1c1c1c" stroke-width="0.3">A549</text>
<rect x="44" y="31.8" width="247.8" height="267.7" fill="none" stroke="#7c7c7c" stroke-width="1.15"/>
<text x="1.4" y="14.0" font-size="14" font-weight="bold" fill="#000" textLength="19.1" lengthAdjust="spacingAndGlyphs">(A)</text>
</g>
<g>
<rect x="373.1" y="33.6" width="248.6" height="267.4" fill="#e9e9e9"/>
<path d="M501.6 33.6V301.0M373.1 196.1H621.7" stroke="#fff" stroke-width="0.7" stroke-opacity="0.8" fill="none"/>
<path d="M495.1 44.7L496.9 46.5L495.1 48.3L493.4 46.5Z" stroke="#e24048" stroke-width="1.00" stroke-opacity="0.9" fill="#e24048" fill-opacity="0.07"/>
<path d="M502.6 42.4L504.4 44.2L502.6 46.0L500.8 44.2Z" stroke="#e24048" stroke-width="1.00" stroke-opacity="0.9" fill="#e24048" fill-opacity="0.07"/>
<path d="M504.5 41.3L506.3 43.1L504.5 44.8L502.8 43.1Z" stroke="#e24048" stroke-width="1.00" stroke-opacity="0.9" fill="#e24048" fill-opacity="0.07"/>
<path d="M549.3 52.4L551.1 54.2L549.3 56.0L547.5 54.2Z" stroke="#e24048" stroke-width="1.00" stroke-opacity="0.9" fill="#e24048" fill-opacity="0.07"/>
<path d="M493.2 60.1L495.0 61.9L493.2 63.7L491.4 61.9Z" stroke="#e24048" stroke-width="1.00" stroke-opacity="0.9" fill="#e24048" fill-opacity="0.07"/>
<path d="M485.3 64.9L487.1 66.7L485.3 68.5L483.6 66.7Z" stroke="#e24048" stroke-width="1.00" stroke-opacity="0.9" fill="#e24048" fill-opacity="0.07"/>
<path d="M499.4 64.5L501.1 66.3L499.4 68.1L497.6 66.3Z" stroke="#e24048" stroke-width="1.00" stroke-opacity="0.9" fill="#e24048" fill-opacity="0.07"/>
<path d="M498.0 67.8L499.8 69.6L498.0 71.3L496.2 69.6Z" stroke="#e24048" stroke-width="1.00" stroke-opacity="0.9" fill="#e24048" fill-opacity="0.07"/>
<path d="M471.9 69.1L473.7 70.9L471.9 72.7L470.1 70.9Z" stroke="#e24048" stroke-width="1.00" stroke-opacity="0.9" fill="#e24048" fill-opacity="0.07"/>
<path d="M477.9 68.2L479.6 69.9L477.9 71.7L476.1 69.9Z" stroke="#e24048" stroke-width="1.00" stroke-opacity="0.9" fill="#e24048" fill-opacity="0.07"/>
<path d="M511.5 67.2L513.2 69.0L511.5 70.8L509.7 69.0Z" stroke="#e24048" stroke-width="1.00" stroke-opacity="0.9" fill="#e24048" fill-opacity="0.07"/>
<path d="M522.4 69.1L524.2 70.9L522.4 72.7L520.6 70.9Z" stroke="#e24048" stroke-width="1.00" stroke-opacity="0.9" fill="#e24048" fill-opacity="0.07"/>
<path d="M542.2 64.3L544.0 66.1L542.2 67.9L540.4 66.1Z" stroke="#e24048" stroke-width="1.00" stroke-opacity="0.9" fill="#e24048" fill-opacity="0.07"/>
<path d="M553.1 71.0L554.9 72.8L553.1 74.6L551.3 72.8Z" stroke="#e24048" stroke-width="1.00" stroke-opacity="0.9" fill="#e24048" fill-opacity="0.07"/>
<path d="M509.3 71.6L511.1 73.4L509.3 75.2L507.6 73.4Z" stroke="#e24048" stroke-width="1.00" stroke-opacity="0.9" fill="#e24048" fill-opacity="0.07"/>
<path d="M534.3 73.5L536.1 75.3L534.3 77.1L532.5 75.3Z" stroke="#e24048" stroke-width="1.00" stroke-opacity="0.9" fill="#e24048" fill-opacity="0.07"/>
<path d="M544.5 73.5L546.3 75.3L544.5 77.1L542.7 75.3Z" stroke="#e24048" stroke-width="1.00" stroke-opacity="0.9" fill="#e24048" fill-opacity="0.07"/>
<path d="M503.8 75.5L505.6 77.2L503.8 79.0L502.0 77.2Z" stroke="#e24048" stroke-width="1.00" stroke-opacity="0.9" fill="#e24048" fill-opacity="0.07"/>
<path d="M558.3 78.0L560.1 79.7L558.3 81.5L556.5 79.7Z" stroke="#e24048" stroke-width="1.00" stroke-opacity="0.9" fill="#e24048" fill-opacity="0.07"/>
<path d="M568.1 80.3L569.9 82.0L568.1 83.8L566.3 82.0Z" stroke="#e24048" stroke-width="1.00" stroke-opacity="0.9" fill="#e24048" fill-opacity="0.07"/>
<path d="M475.7 80.3L477.5 82.0L475.7 83.8L474.0 82.0Z" stroke="#e24048" stroke-width="1.00" stroke-opacity="0.9" fill="#e24048" fill-opacity="0.07"/>
<path d="M499.0 80.8L500.8 82.6L499.0 84.4L497.2 82.6Z" stroke="#e24048" stroke-width="1.00" stroke-opacity="0.9" fill="#e24048" fill-opacity="0.07"/>
<path d="M542.6 82.2L544.4 84.0L542.6 85.7L540.8 84.0Z" stroke="#e24048" stroke-width="1.00" stroke-opacity="0.9" fill="#e24048" fill-opacity="0.07"/>
<path d="M544.1 83.1L545.9 84.9L544.1 86.7L542.3 84.9Z" stroke="#e24048" stroke-width="1.00" stroke-opacity="0.9" fill="#e24048" fill-opacity="0.07"/>
<path d="M477.7 85.4L479.5 87.2L477.7 89.0L475.9 87.2Z" stroke="#e24048" stroke-width="1.00" stroke-opacity="0.9" fill="#e24048" fill-opacity="0.07"/>
<path d="M514.1 84.1L515.9 85.9L514.1 87.7L512.4 85.9Z" stroke="#e24048" stroke-width="1.00" stroke-opacity="0.9" fill="#e24048" fill-opacity="0.07"/>
<path d="M497.4 88.3L499.2 90.1L497.4 91.9L495.7 90.1Z" stroke="#e24048" stroke-width="1.00" stroke-opacity="0.9" fill="#e24048" fill-opacity="0.07"/>
<path d="M500.7 89.3L502.5 91.1L500.7 92.9L498.9 91.1Z" stroke="#e24048" stroke-width="1.00" stroke-opacity="0.9" fill="#e24048" fill-opacity="0.07"/>
<path d="M501.7 90.8L503.5 92.6L501.7 94.4L499.9 92.6Z" stroke="#e24048" stroke-width="1.00" stroke-opacity="0.9" fill="#e24048" fill-opacity="0.07"/>
<path d="M477.3 90.4L479.1 92.2L477.3 94.0L475.5 92.2Z" stroke="#e24048" stroke-width="1.00" stroke-opacity="0.9" fill="#e24048" fill-opacity="0.07"/>
<path d="M529.1 89.9L530.9 91.6L529.1 93.4L527.3 91.6Z" stroke="#e24048" stroke-width="1.00" stroke-opacity="0.9" fill="#e24048" fill-opacity="0.07"/>
<path d="M536.8 90.2L538.6 92.0L536.8 93.8L535.0 92.0Z" stroke="#e24048" stroke-width="1.00" stroke-opacity="0.9" fill="#e24048" fill-opacity="0.07"/>
<path d="M538.3 90.8L540.1 92.6L538.3 94.4L536.6 92.6Z" stroke="#e24048" stroke-width="1.00" stroke-opacity="0.9" fill="#e24048" fill-opacity="0.07"/>
<path d="M548.7 91.8L550.5 93.6L548.7 95.3L546.9 93.6Z" stroke="#e24048" stroke-width="1.00" stroke-opacity="0.9" fill="#e24048" fill-opacity="0.07"/>
<path d="M493.2 93.1L495.0 94.9L493.2 96.7L491.4 94.9Z" stroke="#e24048" stroke-width="1.00" stroke-opacity="0.9" fill="#e24048" fill-opacity="0.07"/>
<path d="M558.9 93.7L560.7 95.5L558.9 97.3L557.1 95.5Z" stroke="#e24048" stroke-width="1.00" stroke-opacity="0.9" fill="#e24048" fill-opacity="0.07"/>
<path d="M514.7 95.6L516.5 97.4L514.7 99.2L512.9 97.4Z" stroke="#e24048" stroke-width="1.00" stroke-opacity="0.9" fill="#e24048" fill-opacity="0.07"/>
<path d="M531.4 96.0L533.2 97.8L531.4 99.6L529.6 97.8Z" stroke="#e24048" stroke-width="1.00" stroke-opacity="0.9" fill="#e24048" fill-opacity="0.07"/>
<path d="M555.4 96.6L557.2 98.4L555.4 100.1L553.6 98.4Z" stroke="#e24048" stroke-width="1.00" stroke-opacity="0.9" fill="#e24048" fill-opacity="0.07"/>
<path d="M548.3 97.5L550.1 99.3L548.3 101.1L546.5 99.3Z" stroke="#e24048" stroke-width="1.00" stroke-opacity="0.9" fill="#e24048" fill-opacity="0.07"/>
<path d="M475.4 99.5L477.1 101.2L475.4 103.0L473.6 101.2Z" stroke="#e24048" stroke-width="1.00" stroke-opacity="0.9" fill="#e24048" fill-opacity="0.07"/>
<path d="M521.1 100.0L522.8 101.8L521.1 103.6L519.3 101.8Z" stroke="#e24048" stroke-width="1.00" stroke-opacity="0.9" fill="#e24048" fill-opacity="0.07"/>
<path d="M472.1 103.3L473.9 105.1L472.1 106.9L470.3 105.1Z" stroke="#e24048" stroke-width="1.00" stroke-opacity="0.9" fill="#e24048" fill-opacity="0.07"/>
<path d="M516.3 102.3L518.0 104.1L516.3 105.9L514.5 104.1Z" stroke="#e24048" stroke-width="1.00" stroke-opacity="0.9" fill="#e24048" fill-opacity="0.07"/>
<path d="M516.6 104.3L518.4 106.0L516.6 107.8L514.9 106.0Z" stroke="#e24048" stroke-width="1.00" stroke-opacity="0.9" fill="#e24048" fill-opacity="0.07"/>
<path d="M535.3 105.2L537.1 107.0L535.3 108.8L533.5 107.0Z" stroke="#e24048" stroke-width="1.00" stroke-opacity="0.9" fill="#e24048" fill-opacity="0.07"/>
<path d="M536.4 106.6L538.2 108.3L536.4 110.1L534.6 108.3Z" stroke="#e24048" stroke-width="1.00" stroke-opacity="0.9" fill="#e24048" fill-opacity="0.07"/>
<path d="M541.0 103.9L542.8 105.7L541.0 107.4L539.2 105.7Z" stroke="#e24048" stroke-width="1.00" stroke-opacity="0.9" fill="#e24048" fill-opacity="0.07"/>
<path d="M468.6 107.1L470.4 108.9L468.6 110.7L466.9 108.9Z" stroke="#e24048" stroke-width="1.00" stroke-opacity="0.9" fill="#e24048" fill-opacity="0.07"/>
<path d="M509.0 107.5L510.7 109.3L509.0 111.1L507.2 109.3Z" stroke="#e24048" stroke-width="1.00" stroke-opacity="0.9" fill="#e24048" fill-opacity="0.07"/>
<path d="M511.8 108.1L513.6 109.9L511.8 111.7L510.1 109.9Z" stroke="#e24048" stroke-width="1.00" stroke-opacity="0.9" fill="#e24048" fill-opacity="0.07"/>
<path d="M553.5 106.6L555.3 108.3L553.5 110.1L551.7 108.3Z" stroke="#e24048" stroke-width="1.00" stroke-opacity="0.9" fill="#e24048" fill-opacity="0.07"/>
<path d="M550.2 109.4L552.0 111.2L550.2 113.0L548.5 111.2Z" stroke="#e24048" stroke-width="1.00" stroke-opacity="0.9" fill="#e24048" fill-opacity="0.07"/>
<path d="M492.3 112.5L494.0 114.3L492.3 116.1L490.5 114.3Z" stroke="#e24048" stroke-width="1.00" stroke-opacity="0.9" fill="#e24048" fill-opacity="0.07"/>
<path d="M495.5 111.9L497.3 113.7L495.5 115.5L493.7 113.7Z" stroke="#e24048" stroke-width="1.00" stroke-opacity="0.9" fill="#e24048" fill-opacity="0.07"/>
<path d="M500.3 111.0L502.1 112.8L500.3 114.5L498.5 112.8Z" stroke="#e24048" stroke-width="1.00" stroke-opacity="0.9" fill="#e24048" fill-opacity="0.07"/>
<path d="M512.8 112.9L514.6 114.7L512.8 116.5L511.0 114.7Z" stroke="#e24048" stroke-width="1.00" stroke-opacity="0.9" fill="#e24048" fill-opacity="0.07"/>
<path d="M514.7 114.8L516.5 116.6L514.7 118.4L512.9 116.6Z" stroke="#e24048" stroke-width="1.00" stroke-opacity="0.9" fill="#e24048" fill-opacity="0.07"/>
<path d="M475.0 120.0L476.8 121.8L475.0 123.6L473.2 121.8Z" stroke="#e24048" stroke-width="1.00" stroke-opacity="0.9" fill="#e24048" fill-opacity="0.07"/>
<path d="M521.8 120.6L523.6 122.4L521.8 124.2L520.0 122.4Z" stroke="#e24048" stroke-width="1.00" stroke-opacity="0.9" fill="#e24048" fill-opacity="0.07"/>
<path d="M523.7 120.0L525.5 121.8L523.7 123.6L522.0 121.8Z" stroke="#e24048" stroke-width="1.00" stroke-opacity="0.9" fill="#e24048" fill-opacity="0.07"/>
<path d="M516.3 121.9L518.0 123.7L516.3 125.5L514.5 123.7Z" stroke="#e24048" stroke-width="1.00" stroke-opacity="0.9" fill="#e24048" fill-opacity="0.07"/>
<path d="M534.9 125.4L536.7 127.2L534.9 129.0L533.1 127.2Z" stroke="#e24048" stroke-width="1.00" stroke-opacity="0.9" fill="#e24048" fill-opacity="0.07"/>
<path d="M554.1 124.8L555.9 126.6L554.1 128.4L552.3 126.6Z" stroke="#e24048" stroke-width="1.00" stroke-opacity="0.9" fill="#e24048" fill-opacity="0.07"/>
<path d="M541.2 127.9L543.0 129.7L541.2 131.4L539.4 129.7Z" stroke="#e24048" stroke-width="1.00" stroke-opacity="0.9" fill="#e24048" fill-opacity="0.07"/>
<path d="M517.2 133.1L519.0 134.8L517.2 136.6L515.4 134.8Z" stroke="#e24048" stroke-width="1.00" stroke-opacity="0.9" fill="#e24048" fill-opacity="0.07"/>
<path d="M476.3 138.2L478.1 140.0L476.3 141.8L474.5 140.0Z" stroke="#e24048" stroke-width="1.00" stroke-opacity="0.9" fill="#e24048" fill-opacity="0.07"/>
<path d="M535.5 142.1L537.2 143.9L535.5 145.7L533.7 143.9Z" stroke="#e24048" stroke-width="1.00" stroke-opacity="0.9" fill="#e24048" fill-opacity="0.07"/>
<path d="M538.7 139.8L540.5 141.6L538.7 143.4L536.9 141.6Z" stroke="#e24048" stroke-width="1.00" stroke-opacity="0.9" fill="#e24048" fill-opacity="0.07"/>
<path d="M568.5 155.4L570.3 157.2L568.5 159.0L566.7 157.2Z" stroke="#e24048" stroke-width="1.00" stroke-opacity="0.9" fill="#e24048" fill-opacity="0.07"/>
<path d="M550.2 171.4L552.0 173.2L550.2 175.0L548.4 173.2Z" stroke="#e24048" stroke-width="1.00" stroke-opacity="0.9" fill="#e24048" fill-opacity="0.07"/>
<path d="M408.8 189.9H413.1M410.9 187.8V192.1" stroke="#2f28b6" stroke-width="1.10" stroke-opacity="0.8" fill="none"/>
<path d="M401.9 193.3H406.2M404.0 191.1V195.4" stroke="#2f28b6" stroke-width="1.10" stroke-opacity="0.8" fill="none"/>
<path d="M390.1 200.3H394.4M392.2 198.2V202.5" stroke="#2f28b6" stroke-width="1.10" stroke-opacity="0.8" fill="none"/>
<path d="M379.5 206.1H383.8M381.7 204.0V208.3" stroke="#2f28b6" stroke-width="1.10" stroke-opacity="0.8" fill="none"/>
<path d="M392.2 206.5H396.5M394.4 204.3V208.6" stroke="#2f28b6" stroke-width="1.10" stroke-opacity="0.8" fill="none"/>
<path d="M392.7 207.9H397.0M394.9 205.7V210.0" stroke="#2f28b6" stroke-width="1.10" stroke-opacity="0.8" fill="none"/>
<path d="M382.9 210.2H387.2M385.0 208.0V212.3" stroke="#2f28b6" stroke-width="1.10" stroke-opacity="0.8" fill="none"/>
<path d="M385.7 209.6H390.0M387.8 207.5V211.8" stroke="#2f28b6" stroke-width="1.10" stroke-opacity="0.8" fill="none"/>
<path d="M408.0 211.8H412.3M410.2 209.6V213.9" stroke="#2f28b6" stroke-width="1.10" stroke-opacity="0.8" fill="none"/>
<path d="M393.6 214.0H397.9M395.8 211.9V216.2" stroke="#2f28b6" stroke-width="1.10" stroke-opacity="0.8" fill="none"/>
<path d="M386.0 214.9H390.3M388.2 212.8V217.1" stroke="#2f28b6" stroke-width="1.10" stroke-opacity="0.8" fill="none"/>
<path d="M408.9 215.3H413.2M411.1 213.1V217.4" stroke="#2f28b6" stroke-width="1.10" stroke-opacity="0.8" fill="none"/>
<path d="M409.8 217.2H414.1M412.0 215.1V219.4" stroke="#2f28b6" stroke-width="1.10" stroke-opacity="0.8" fill="none"/>
<path d="M380.8 218.1H385.1M382.9 215.9V220.2" stroke="#2f28b6" stroke-width="1.10" stroke-opacity="0.8" fill="none"/>
<path d="M382.0 217.6H386.3M384.2 215.4V219.7" stroke="#2f28b6" stroke-width="1.10" stroke-opacity="0.8" fill="none"/>
<path d="M388.7 217.6H393.0M390.8 215.4V219.7" stroke="#2f28b6" stroke-width="1.10" stroke-opacity="0.8" fill="none"/>
<path d="M420.0 218.4H424.3M422.2 216.3V220.6" stroke="#2f28b6" stroke-width="1.10" stroke-opacity="0.8" fill="none"/>
<path d="M450.3 217.2H454.6M452.4 215.1V219.4" stroke="#2f28b6" stroke-width="1.10" stroke-opacity="0.8" fill="none"/>
<path d="M396.1 219.7H400.4M398.2 217.5V221.8" stroke="#2f28b6" stroke-width="1.10" stroke-opacity="0.8" fill="none"/>
<path d="M400.5 222.0H404.8M402.6 219.8V224.1" stroke="#2f28b6" stroke-width="1.10" stroke-opacity="0.8" fill="none"/>
<path d="M391.3 222.5H395.6M393.5 220.3V224.6" stroke="#2f28b6" stroke-width="1.10" stroke-opacity="0.8" fill="none"/>
<path d="M394.8 224.6H399.1M397.0 222.4V226.7" stroke="#2f28b6" stroke-width="1.10" stroke-opacity="0.8" fill="none"/>
<path d="M403.6 225.5H407.9M405.8 223.3V227.6" stroke="#2f28b6" stroke-width="1.10" stroke-opacity="0.8" fill="none"/>
<path d="M408.0 225.5H412.3M410.2 223.3V227.6" stroke="#2f28b6" stroke-width="1.10" stroke-opacity="0.8" fill="none"/>
<path d="M408.9 226.4H413.2M411.1 224.2V228.5" stroke="#2f28b6" stroke-width="1.10" stroke-opacity="0.8" fill="none"/>
<path d="M386.6 228.5H390.9M388.7 226.3V230.6" stroke="#2f28b6" stroke-width="1.10" stroke-opacity="0.8" fill="none"/>
<path d="M444.1 228.1H448.4M446.3 226.0V230.3" stroke="#2f28b6" stroke-width="1.10" stroke-opacity="0.8" fill="none"/>
<path d="M430.9 229.9H435.2M433.1 227.7V232.0" stroke="#2f28b6" stroke-width="1.10" stroke-opacity="0.8" fill="none"/>
<path d="M405.9 230.8H410.2M408.1 228.6V232.9" stroke="#2f28b6" stroke-width="1.10" stroke-opacity="0.8" fill="none"/>
<path d="M407.2 231.6H411.5M409.3 229.5V233.8" stroke="#2f28b6" stroke-width="1.10" stroke-opacity="0.8" fill="none"/>
<path d="M405.4 232.2H409.7M407.6 230.0V234.3" stroke="#2f28b6" stroke-width="1.10" stroke-opacity="0.8" fill="none"/>
<path d="M413.0 232.0H417.3M415.1 229.8V234.1" stroke="#2f28b6" stroke-width="1.10" stroke-opacity="0.8" fill="none"/>
<path d="M398.4 232.0H402.7M400.5 229.8V234.1" stroke="#2f28b6" stroke-width="1.10" stroke-opacity="0.8" fill="none"/>
<path d="M434.4 232.5H438.7M436.6 230.4V234.7" stroke="#2f28b6" stroke-width="1.10" stroke-opacity="0.8" fill="none"/>
<path d="M386.4 234.3H390.7M388.6 232.1V236.4" stroke="#2f28b6" stroke-width="1.10" stroke-opacity="0.8" fill="none"/>
<path d="M391.3 234.6H395.6M393.5 232.5V236.8" stroke="#2f28b6" stroke-width="1.10" stroke-opacity="0.8" fill="none"/>
<path d="M439.4 235.2H443.7M441.5 233.0V237.3" stroke="#2f28b6" stroke-width="1.10" stroke-opacity="0.8" fill="none"/>
<path d="M391.9 236.4H396.2M394.0 234.2V238.5" stroke="#2f28b6" stroke-width="1.10" stroke-opacity="0.8" fill="none"/>
<path d="M394.8 236.9H399.1M397.0 234.8V239.1" stroke="#2f28b6" stroke-width="1.10" stroke-opacity="0.8" fill="none"/>
<path d="M398.9 236.0H403.2M401.0 233.9V238.2" stroke="#2f28b6" stroke-width="1.10" stroke-opacity="0.8" fill="none"/>
<path d="M419.1 237.3H423.4M421.3 235.1V239.4" stroke="#2f28b6" stroke-width="1.10" stroke-opacity="0.8" fill="none"/>
<path d="M423.4 236.9H427.7M425.5 234.8V239.1" stroke="#2f28b6" stroke-width="1.10" stroke-opacity="0.8" fill="none"/>
<path d="M457.9 237.3H462.2M460.0 235.1V239.4" stroke="#2f28b6" stroke-width="1.10" stroke-opacity="0.8" fill="none"/>
<path d="M430.6 239.0H434.9M432.7 236.9V241.2" stroke="#2f28b6" stroke-width="1.10" stroke-opacity="0.8" fill="none"/>
<path d="M425.6 241.0H429.9M427.8 238.8V243.1" stroke="#2f28b6" stroke-width="1.10" stroke-opacity="0.8" fill="none"/>
<path d="M399.2 241.3H403.5M401.4 239.2V243.5" stroke="#2f28b6" stroke-width="1.10" stroke-opacity="0.8" fill="none"/>
<path d="M467.0 239.6H471.3M469.2 237.4V241.7" stroke="#2f28b6" stroke-width="1.10" stroke-opacity="0.8" fill="none"/>
<path d="M413.7 241.7H418.0M415.8 239.5V243.8" stroke="#2f28b6" stroke-width="1.10" stroke-opacity="0.8" fill="none"/>
<path d="M408.9 242.7H413.2M411.1 240.6V244.9" stroke="#2f28b6" stroke-width="1.10" stroke-opacity="0.8" fill="none"/>
<path d="M411.6 243.4H415.9M413.7 241.3V245.6" stroke="#2f28b6" stroke-width="1.10" stroke-opacity="0.8" fill="none"/>
<path d="M447.6 243.6H451.9M449.8 241.5V245.8" stroke="#2f28b6" stroke-width="1.10" stroke-opacity="0.8" fill="none"/>
<path d="M404.5 245.7H408.8M406.7 243.6V247.9" stroke="#2f28b6" stroke-width="1.10" stroke-opacity="0.8" fill="none"/>
<path d="M398.9 247.0H403.2M401.0 244.8V249.1" stroke="#2f28b6" stroke-width="1.10" stroke-opacity="0.8" fill="none"/>
<path d="M446.8 246.2H451.1M448.9 244.1V248.4" stroke="#2f28b6" stroke-width="1.10" stroke-opacity="0.8" fill="none"/>
<path d="M410.3 248.0H414.6M412.5 245.9V250.2" stroke="#2f28b6" stroke-width="1.10" stroke-opacity="0.8" fill="none"/>
<path d="M444.1 248.4H448.4M446.3 246.2V250.5" stroke="#2f28b6" stroke-width="1.10" stroke-opacity="0.8" fill="none"/>
<path d="M412.4 250.5H416.7M414.6 248.3V252.6" stroke="#2f28b6" stroke-width="1.10" stroke-opacity="0.8" fill="none"/>
<path d="M431.8 251.0H436.1M434.0 248.8V253.1" stroke="#2f28b6" stroke-width="1.10" stroke-opacity="0.8" fill="none"/>
<path d="M432.7 251.9H437.0M434.8 249.7V254.0" stroke="#2f28b6" stroke-width="1.10" stroke-opacity="0.8" fill="none"/>
<path d="M435.3 252.4H439.6M437.5 250.3V254.6" stroke="#2f28b6" stroke-width="1.10" stroke-opacity="0.8" fill="none"/>
<path d="M420.0 254.9H424.3M422.2 252.7V257.0" stroke="#2f28b6" stroke-width="1.10" stroke-opacity="0.8" fill="none"/>
<path d="M446.4 254.2H450.7M448.6 252.0V256.3" stroke="#2f28b6" stroke-width="1.10" stroke-opacity="0.8" fill="none"/>
<path d="M471.8 255.4H476.1M473.9 253.2V257.5" stroke="#2f28b6" stroke-width="1.10" stroke-opacity="0.8" fill="none"/>
<path d="M433.6 257.2H437.9M435.7 255.0V259.3" stroke="#2f28b6" stroke-width="1.10" stroke-opacity="0.8" fill="none"/>
<path d="M434.4 257.7H438.7M436.6 255.5V259.8" stroke="#2f28b6" stroke-width="1.10" stroke-opacity="0.8" fill="none"/>
<path d="M404.9 258.9H409.2M407.0 256.8V261.1" stroke="#2f28b6" stroke-width="1.10" stroke-opacity="0.8" fill="none"/>
<path d="M449.8 261.2H454.1M451.9 259.1V263.4" stroke="#2f28b6" stroke-width="1.10" stroke-opacity="0.8" fill="none"/>
<path d="M455.0 262.8H459.3M457.2 260.6V264.9" stroke="#2f28b6" stroke-width="1.10" stroke-opacity="0.8" fill="none"/>
<path d="M467.0 272.1H471.3M469.2 270.0V274.3" stroke="#2f28b6" stroke-width="1.10" stroke-opacity="0.8" fill="none"/>
<path d="M463.1 274.4H467.4M465.3 272.3V276.6" stroke="#2f28b6" stroke-width="1.10" stroke-opacity="0.8" fill="none"/>
<path d="M449.4 276.5H453.7M451.6 274.4V278.7" stroke="#2f28b6" stroke-width="1.10" stroke-opacity="0.8" fill="none"/>
<path d="M436.2 282.1H440.5M438.4 280.0V284.3" stroke="#2f28b6" stroke-width="1.10" stroke-opacity="0.8" fill="none"/>
<path d="M447.6 291.1H451.9M449.8 289.0V293.3" stroke="#2f28b6" stroke-width="1.10" stroke-opacity="0.8" fill="none"/>
<path d="M579.9 210.2L581.9 213.7H577.9Z" stroke="#26e630" stroke-width="1.00" stroke-opacity="0.85" fill="#26e630" fill-opacity="0.20"/>
<path d="M603.4 220.3L605.4 223.8H601.4Z" stroke="#26e630" stroke-width="1.00" stroke-opacity="0.85" fill="#26e630" fill-opacity="0.20"/>
<path d="M576.5 230.4L578.5 233.9H574.5Z" stroke="#26e630" stroke-width="1.00" stroke-opacity="0.85" fill="#26e630" fill-opacity="0.20"/>
<path d="M573.2 233.2L575.2 236.7H571.2Z" stroke="#26e630" stroke-width="1.00" stroke-opacity="0.85" fill="#26e630" fill-opacity="0.20"/>
<path d="M559.9 242.6L561.9 246.1H557.9Z" stroke="#26e630" stroke-width="1.00" stroke-opacity="0.85" fill="#26e630" fill-opacity="0.20"/>
<path d="M560.9 244.0L562.9 247.5H558.9Z" stroke="#26e630" stroke-width="1.00" stroke-opacity="0.85" fill="#26e630" fill-opacity="0.20"/>
<path d="M563.1 245.5L565.1 249.0H561.1Z" stroke="#26e630" stroke-width="1.00" stroke-opacity="0.85" fill="#26e630" fill-opacity="0.20"/>
<path d="M570.3 240.7L572.3 244.2H568.3Z" stroke="#26e630" stroke-width="1.00" stroke-opacity="0.85" fill="#26e630" fill-opacity="0.20"/>
<path d="M575.8 241.9L577.8 245.4H573.8Z" stroke="#26e630" stroke-width="1.00" stroke-opacity="0.85" fill="#26e630" fill-opacity="0.20"/>
<path d="M583.0 241.2L585.0 244.7H581.0Z" stroke="#26e630" stroke-width="1.00" stroke-opacity="0.85" fill="#26e630" fill-opacity="0.20"/>
<path d="M592.6 241.2L594.6 244.7H590.6Z" stroke="#26e630" stroke-width="1.00" stroke-opacity="0.85" fill="#26e630" fill-opacity="0.20"/>
<path d="M595.2 243.3L597.2 246.8H593.2Z" stroke="#26e630" stroke-width="1.00" stroke-opacity="0.85" fill="#26e630" fill-opacity="0.20"/>
<path d="M574.6 244.8L576.6 248.3H572.6Z" stroke="#26e630" stroke-width="1.00" stroke-opacity="0.85" fill="#26e630" fill-opacity="0.20"/>
<path d="M575.8 246.2L577.8 249.7H573.8Z" stroke="#26e630" stroke-width="1.00" stroke-opacity="0.85" fill="#26e630" fill-opacity="0.20"/>
<path d="M581.4 244.5L583.4 248.0H579.4Z" stroke="#26e630" stroke-width="1.00" stroke-opacity="0.85" fill="#26e630" fill-opacity="0.20"/>
<path d="M589.4 245.5L591.4 249.0H587.4Z" stroke="#26e630" stroke-width="1.00" stroke-opacity="0.85" fill="#26e630" fill-opacity="0.20"/>
<path d="M575.3 249.1L577.3 252.6H573.3Z" stroke="#26e630" stroke-width="1.00" stroke-opacity="0.85" fill="#26e630" fill-opacity="0.20"/>
<path d="M582.5 247.6L584.5 251.1H580.5Z" stroke="#26e630" stroke-width="1.00" stroke-opacity="0.85" fill="#26e630" fill-opacity="0.20"/>
<path d="M588.3 248.8L590.3 252.3H586.3Z" stroke="#26e630" stroke-width="1.00" stroke-opacity="0.85" fill="#26e630" fill-opacity="0.20"/>
<path d="M547.2 251.2L549.2 254.7H545.2Z" stroke="#26e630" stroke-width="1.00" stroke-opacity="0.85" fill="#26e630" fill-opacity="0.20"/>
<path d="M571.0 252.7L573.0 256.2H569.0Z" stroke="#26e630" stroke-width="1.00" stroke-opacity="0.85" fill="#26e630" fill-opacity="0.20"/>
<path d="M584.0 253.4L586.0 256.9H582.0Z" stroke="#26e630" stroke-width="1.00" stroke-opacity="0.85" fill="#26e630" fill-opacity="0.20"/>
<path d="M577.5 254.8L579.5 258.3H575.5Z" stroke="#26e630" stroke-width="1.00" stroke-opacity="0.85" fill="#26e630" fill-opacity="0.20"/>
<path d="M578.2 257.0L580.2 260.5H576.2Z" stroke="#26e630" stroke-width="1.00" stroke-opacity="0.85" fill="#26e630" fill-opacity="0.20"/>
<path d="M584.7 257.0L586.7 260.5H582.7Z" stroke="#26e630" stroke-width="1.00" stroke-opacity="0.85" fill="#26e630" fill-opacity="0.20"/>
<path d="M594.0 257.4L596.0 260.9H592.0Z" stroke="#26e630" stroke-width="1.00" stroke-opacity="0.85" fill="#26e630" fill-opacity="0.20"/>
<path d="M597.9 256.6L599.9 260.1H595.9Z" stroke="#26e630" stroke-width="1.00" stroke-opacity="0.85" fill="#26e630" fill-opacity="0.20"/>
<path d="M604.6 257.0L606.6 260.5H602.6Z" stroke="#26e630" stroke-width="1.00" stroke-opacity="0.85" fill="#26e630" fill-opacity="0.20"/>
<path d="M576.8 259.9L578.8 263.4H574.8Z" stroke="#26e630" stroke-width="1.00" stroke-opacity="0.85" fill="#26e630" fill-opacity="0.20"/>
<path d="M581.1 259.2L583.1 262.7H579.1Z" stroke="#26e630" stroke-width="1.00" stroke-opacity="0.85" fill="#26e630" fill-opacity="0.20"/>
<path d="M587.6 260.6L589.6 264.1H585.6Z" stroke="#26e630" stroke-width="1.00" stroke-opacity="0.85" fill="#26e630" fill-opacity="0.20"/>
<path d="M591.9 261.3L593.9 264.8H589.9Z" stroke="#26e630" stroke-width="1.00" stroke-opacity="0.85" fill="#26e630" fill-opacity="0.20"/>
<path d="M600.5 261.3L602.5 264.8H598.5Z" stroke="#26e630" stroke-width="1.00" stroke-opacity="0.85" fill="#26e630" fill-opacity="0.20"/>
<path d="M610.6 260.6L612.6 264.1H608.6Z" stroke="#26e630" stroke-width="1.00" stroke-opacity="0.85" fill="#26e630" fill-opacity="0.20"/>
<path d="M613.8 261.8L615.8 265.3H611.8Z" stroke="#26e630" stroke-width="1.00" stroke-opacity="0.85" fill="#26e630" fill-opacity="0.20"/>
<path d="M577.5 263.5L579.5 267.0H575.5Z" stroke="#26e630" stroke-width="1.00" stroke-opacity="0.85" fill="#26e630" fill-opacity="0.20"/>
<path d="M590.4 264.2L592.4 267.7H588.4Z" stroke="#26e630" stroke-width="1.00" stroke-opacity="0.85" fill="#26e630" fill-opacity="0.20"/>
<path d="M599.8 263.5L601.8 267.0H597.8Z" stroke="#26e630" stroke-width="1.00" stroke-opacity="0.85" fill="#26e630" fill-opacity="0.20"/>
<path d="M605.6 262.8L607.6 266.3H603.6Z" stroke="#26e630" stroke-width="1.00" stroke-opacity="0.85" fill="#26e630" fill-opacity="0.20"/>
<path d="M582.5 265.6L584.5 269.1H580.5Z" stroke="#26e630" stroke-width="1.00" stroke-opacity="0.85" fill="#26e630" fill-opacity="0.20"/>
<path d="M588.3 266.4L590.3 269.9H586.3Z" stroke="#26e630" stroke-width="1.00" stroke-opacity="0.85" fill="#26e630" fill-opacity="0.20"/>
<path d="M594.0 267.1L596.0 270.6H592.0Z" stroke="#26e630" stroke-width="1.00" stroke-opacity="0.85" fill="#26e630" fill-opacity="0.20"/>
<path d="M598.4 265.9L600.4 269.4H596.4Z" stroke="#26e630" stroke-width="1.00" stroke-opacity="0.85" fill="#26e630" fill-opacity="0.20"/>
<path d="M604.8 266.4L606.8 269.9H602.8Z" stroke="#26e630" stroke-width="1.00" stroke-opacity="0.85" fill="#26e630" fill-opacity="0.20"/>
<path d="M610.2 266.4L612.2 269.9H608.2Z" stroke="#26e630" stroke-width="1.00" stroke-opacity="0.85" fill="#26e630" fill-opacity="0.20"/>
<path d="M573.9 268.5L575.9 272.0H571.9Z" stroke="#26e630" stroke-width="1.00" stroke-opacity="0.85" fill="#26e630" fill-opacity="0.20"/>
<path d="M576.8 269.2L578.8 272.7H574.8Z" stroke="#26e630" stroke-width="1.00" stroke-opacity="0.85" fill="#26e630" fill-opacity="0.20"/>
<path d="M581.1 269.2L583.1 272.7H579.1Z" stroke="#26e630" stroke-width="1.00" stroke-opacity="0.85" fill="#26e630" fill-opacity="0.20"/>
<path d="M585.4 269.0L587.4 272.5H583.4Z" stroke="#26e630" stroke-width="1.00" stroke-opacity="0.85" fill="#26e630" fill-opacity="0.20"/>
<path d="M589.0 269.5L591.0 273.0H587.0Z" stroke="#26e630" stroke-width="1.00" stroke-opacity="0.85" fill="#26e630" fill-opacity="0.20"/>
<path d="M592.6 270.0L594.6 273.5H590.6Z" stroke="#26e630" stroke-width="1.00" stroke-opacity="0.85" fill="#26e630" fill-opacity="0.20"/>
<path d="M596.2 269.2L598.2 272.7H594.2Z" stroke="#26e630" stroke-width="1.00" stroke-opacity="0.85" fill="#26e630" fill-opacity="0.20"/>
<path d="M599.1 269.0L601.1 272.5H597.1Z" stroke="#26e630" stroke-width="1.00" stroke-opacity="0.85" fill="#26e630" fill-opacity="0.20"/>
<path d="M602.0 270.7L604.0 274.2H600.0Z" stroke="#26e630" stroke-width="1.00" stroke-opacity="0.85" fill="#26e630" fill-opacity="0.20"/>
<path d="M565.7 273.6L567.7 277.1H563.7Z" stroke="#26e630" stroke-width="1.00" stroke-opacity="0.85" fill="#26e630" fill-opacity="0.20"/>
<path d="M585.4 274.3L587.4 277.8H583.4Z" stroke="#26e630" stroke-width="1.00" stroke-opacity="0.85" fill="#26e630" fill-opacity="0.20"/>
<path d="M590.4 272.8L592.4 276.3H588.4Z" stroke="#26e630" stroke-width="1.00" stroke-opacity="0.85" fill="#26e630" fill-opacity="0.20"/>
<path d="M589.0 276.4L591.0 279.9H587.0Z" stroke="#26e630" stroke-width="1.00" stroke-opacity="0.85" fill="#26e630" fill-opacity="0.20"/>
<path d="M600.5 275.0L602.5 278.5H598.5Z" stroke="#26e630" stroke-width="1.00" stroke-opacity="0.85" fill="#26e630" fill-opacity="0.20"/>
<path d="M585.1 281.9L587.1 285.4H583.1Z" stroke="#26e630" stroke-width="1.00" stroke-opacity="0.85" fill="#26e630" fill-opacity="0.20"/>
<path d="M596.6 281.9L598.6 285.4H594.6Z" stroke="#26e630" stroke-width="1.00" stroke-opacity="0.85" fill="#26e630" fill-opacity="0.20"/>
<path d="M576.0 246.0L578.0 249.5H574.0Z" stroke="#26e630" stroke-width="1.00" stroke-opacity="0.85" fill="#26e630" fill-opacity="0.20"/>
<path d="M575.7 247.4L577.7 250.9H573.7Z" stroke="#26e630" stroke-width="1.00" stroke-opacity="0.85" fill="#26e630" fill-opacity="0.20"/>
<path d="M577.3 256.0L579.3 259.5H575.3Z" stroke="#26e630" stroke-width="1.00" stroke-opacity="0.85" fill="#26e630" fill-opacity="0.20"/>
<path d="M577.5 258.9L579.5 262.4H575.5Z" stroke="#26e630" stroke-width="1.00" stroke-opacity="0.85" fill="#26e630" fill-opacity="0.20"/>
<path d="M588.0 261.8L590.0 265.3H586.0Z" stroke="#26e630" stroke-width="1.00" stroke-opacity="0.85" fill="#26e630" fill-opacity="0.20"/>
<path d="M590.4 266.6L592.4 270.1H588.4Z" stroke="#26e630" stroke-width="1.00" stroke-opacity="0.85" fill="#26e630" fill-opacity="0.20"/>
<path d="M591.9 268.5L593.9 272.0H589.9Z" stroke="#26e630" stroke-width="1.00" stroke-opacity="0.85" fill="#26e630" fill-opacity="0.20"/>
<path d="M599.1 262.8L601.1 266.3H597.1Z" stroke="#26e630" stroke-width="1.00" stroke-opacity="0.85" fill="#26e630" fill-opacity="0.20"/>
<path d="M600.0 265.2L602.0 268.7H598.0Z" stroke="#26e630" stroke-width="1.00" stroke-opacity="0.85" fill="#26e630" fill-opacity="0.20"/>
<path d="M574.6 269.5L576.6 273.0H572.6Z" stroke="#26e630" stroke-width="1.00" stroke-opacity="0.85" fill="#26e630" fill-opacity="0.20"/>
<path d="M582.3 266.6L584.3 270.1H580.3Z" stroke="#26e630" stroke-width="1.00" stroke-opacity="0.85" fill="#26e630" fill-opacity="0.20"/>
<path d="M596.7 269.5L598.7 273.0H594.7Z" stroke="#26e630" stroke-width="1.00" stroke-opacity="0.85" fill="#26e630" fill-opacity="0.20"/>
<path d="M585.2 269.0L587.2 272.5H583.2Z" stroke="#26e630" stroke-width="1.00" stroke-opacity="0.85" fill="#26e630" fill-opacity="0.20"/>
<path d="M375.9 301.0v5.6M417.8 301.0v5.6M459.7 301.0v5.6M501.6 301.0v5.6M543.5 301.0v5.6M585.4 301.0v5.6M373.1 254.1h-5.4M373.1 196.1h-5.4M373.1 138.1h-5.4M373.1 80.1h-5.4" stroke="#686868" stroke-width="0.9" fill="none"/>
<text transform="translate(375.9 319.7) scale(0.9 1)" font-size="9" fill="#333333" stroke="#333333" stroke-width="0.12" text-anchor="middle">-15</text>
<text transform="translate(417.8 319.7) scale(0.9 1)" font-size="9" fill="#333333" stroke="#333333" stroke-width="0.12" text-anchor="middle">-10</text>
<text transform="translate(459.7 319.7) scale(0.9 1)" font-size="9" fill="#333333" stroke="#333333" stroke-width="0.12" text-anchor="middle">-5</text>
<text transform="translate(501.6 319.7) scale(0.9 1)" font-size="9" fill="#333333" stroke="#333333" stroke-width="0.12" text-anchor="middle">0</text>
<text transform="translate(543.5 319.7) scale(0.9 1)" font-size="9" fill="#333333" stroke="#333333" stroke-width="0.12" text-anchor="middle">5</text>
<text transform="translate(585.4 319.7) scale(0.9 1)" font-size="9" fill="#333333" stroke="#333333" stroke-width="0.12" text-anchor="middle">10</text>
<text transform="translate(361.3 254.1) rotate(-90) scale(0.9 1)" font-size="9" fill="#333333" stroke="#333333" stroke-width="0.12" text-anchor="middle">-5</text>
<text transform="translate(361.3 196.1) rotate(-90) scale(0.9 1)" font-size="9" fill="#333333" stroke="#333333" stroke-width="0.12" text-anchor="middle">0</text>
<text transform="translate(361.3 138.1) rotate(-90) scale(0.9 1)" font-size="9" fill="#333333" stroke="#333333" stroke-width="0.12" text-anchor="middle">5</text>
<text transform="translate(361.3 80.1) rotate(-90) scale(0.9 1)" font-size="9" fill="#333333" stroke="#333333" stroke-width="0.12" text-anchor="middle">10</text>
<text x="496.8" y="339.8" font-size="8.4" fill="#333333" stroke="#333333" stroke-width="0.15" text-anchor="middle">PC1</text>
<text transform="translate(340.3 167.3) rotate(-90)" font-size="8.5" fill="#333333" stroke="#333333" stroke-width="0.15" text-anchor="middle">PC2</text>
<rect x="572.3" y="31" width="49.5" height="43" fill="#fff"/>
<circle cx="577.3" cy="41.7" r="2.10" stroke="#d84458" stroke-width="1.30" fill="none"/>
<text transform="translate(586.9 45.7) scale(1.0 1)" font-size="10" fill="#1c1c1c" stroke="#1c1c1c" stroke-width="0.3">SKBR3</text>
<path d="M577.3 51.0L580.9 57.3H573.7Z" stroke="#26e630" stroke-width="1.25" stroke-opacity="1" fill="#26e630" fill-opacity="0.15"/>
<text transform="translate(586.9 58.6) scale(1.0 1)" font-size="10" fill="#1c1c1c" stroke="#1c1c1c" stroke-width="0.3">K562</text>
<path d="M573.6 67.4H581.0M577.3 63.7V71.1" stroke="#2f28b6" stroke-width="1.38" stroke-opacity="1" fill="none"/>
<text transform="translate(586.9 71.4) scale(1.0 1)" font-size="10" fill="#1c1c1c" stroke="#1c1c1c" stroke-width="0.3">A549</text>
<rect x="373.1" y="33.6" width="248.6" height="267.4" fill="none" stroke="#7c7c7c" stroke-width="1.15"/>
<text x="334.3" y="12.7" font-size="14" font-weight="bold" fill="#000" textLength="17.9" lengthAdjust="spacingAndGlyphs">(B)</text>
</g>
<g>
<rect x="188.8" y="377.4" width="247.6" height="267.0" fill="#e9e9e9"/>
<path d="M309.3 377.4V644.4M188.8 543.2H436.4" stroke="#fff" stroke-width="0.7" stroke-opacity="0.8" fill="none"/>
<path d="M274.3 389.3H278.6M276.5 387.2V391.5" stroke="#2f28b6" stroke-width="1.10" stroke-opacity="0.8" fill="none"/>
<path d="M293.7 387.0H298.0M295.8 384.9V389.2" stroke="#2f28b6" stroke-width="1.10" stroke-opacity="0.8" fill="none"/>
<path d="M295.4 402.9H299.7M297.6 400.7V405.0" stroke="#2f28b6" stroke-width="1.10" stroke-opacity="0.8" fill="none"/>
<path d="M325.7 405.2H330.0M327.9 403.0V407.3" stroke="#2f28b6" stroke-width="1.10" stroke-opacity="0.8" fill="none"/>
<path d="M317.1 407.6H321.4M319.2 405.5V409.8" stroke="#2f28b6" stroke-width="1.10" stroke-opacity="0.8" fill="none"/>
<path d="M284.9 413.4H289.2M287.0 411.3V415.6" stroke="#2f28b6" stroke-width="1.10" stroke-opacity="0.8" fill="none"/>
<path d="M291.9 412.2H296.2M294.1 410.1V414.4" stroke="#2f28b6" stroke-width="1.10" stroke-opacity="0.8" fill="none"/>
<path d="M290.7 414.7H295.0M292.8 412.5V416.8" stroke="#2f28b6" stroke-width="1.10" stroke-opacity="0.8" fill="none"/>
<path d="M338.6 414.7H342.9M340.7 412.5V416.8" stroke="#2f28b6" stroke-width="1.10" stroke-opacity="0.8" fill="none"/>
<path d="M278.7 417.0H283.0M280.9 414.8V419.1" stroke="#2f28b6" stroke-width="1.10" stroke-opacity="0.8" fill="none"/>
<path d="M301.3 414.7H305.6M303.4 412.5V416.8" stroke="#2f28b6" stroke-width="1.10" stroke-opacity="0.8" fill="none"/>
<path d="M304.2 417.0H308.5M306.4 414.8V419.1" stroke="#2f28b6" stroke-width="1.10" stroke-opacity="0.8" fill="none"/>
<path d="M284.9 423.1H289.2M287.0 421.0V425.3" stroke="#2f28b6" stroke-width="1.10" stroke-opacity="0.8" fill="none"/>
<path d="M311.6 422.6H315.9M313.8 420.4V424.7" stroke="#2f28b6" stroke-width="1.10" stroke-opacity="0.8" fill="none"/>
<path d="M333.6 423.1H337.9M335.8 421.0V425.3" stroke="#2f28b6" stroke-width="1.10" stroke-opacity="0.8" fill="none"/>
<path d="M331.2 424.0H335.5M333.3 421.8V426.1" stroke="#2f28b6" stroke-width="1.10" stroke-opacity="0.8" fill="none"/>
<path d="M277.0 426.3H281.3M279.1 424.1V428.4" stroke="#2f28b6" stroke-width="1.10" stroke-opacity="0.8" fill="none"/>
<path d="M300.2 426.1H304.5M302.4 424.0V428.3" stroke="#2f28b6" stroke-width="1.10" stroke-opacity="0.8" fill="none"/>
<path d="M306.5 425.8H310.8M308.7 423.6V427.9" stroke="#2f28b6" stroke-width="1.10" stroke-opacity="0.8" fill="none"/>
<path d="M317.1 426.1H321.4M319.2 424.0V428.3" stroke="#2f28b6" stroke-width="1.10" stroke-opacity="0.8" fill="none"/>
<path d="M327.1 426.6H331.4M329.3 424.5V428.8" stroke="#2f28b6" stroke-width="1.10" stroke-opacity="0.8" fill="none"/>
<path d="M299.8 428.4H304.1M302.0 426.2V430.5" stroke="#2f28b6" stroke-width="1.10" stroke-opacity="0.8" fill="none"/>
<path d="M294.2 429.3H298.5M296.4 427.1V431.4" stroke="#2f28b6" stroke-width="1.10" stroke-opacity="0.8" fill="none"/>
<path d="M291.9 431.0H296.2M294.1 428.9V433.2" stroke="#2f28b6" stroke-width="1.10" stroke-opacity="0.8" fill="none"/>
<path d="M316.6 431.0H320.9M318.7 428.9V433.2" stroke="#2f28b6" stroke-width="1.10" stroke-opacity="0.8" fill="none"/>
<path d="M325.0 431.0H329.3M327.2 428.9V433.2" stroke="#2f28b6" stroke-width="1.10" stroke-opacity="0.8" fill="none"/>
<path d="M331.5 431.9H335.8M333.7 429.8V434.1" stroke="#2f28b6" stroke-width="1.10" stroke-opacity="0.8" fill="none"/>
<path d="M267.3 432.8H271.6M269.4 430.6V434.9" stroke="#2f28b6" stroke-width="1.10" stroke-opacity="0.8" fill="none"/>
<path d="M329.4 433.7H333.7M331.6 431.5V435.8" stroke="#2f28b6" stroke-width="1.10" stroke-opacity="0.8" fill="none"/>
<path d="M345.1 432.3H349.4M347.2 430.1V434.4" stroke="#2f28b6" stroke-width="1.10" stroke-opacity="0.8" fill="none"/>
<path d="M284.9 435.4H289.2M287.0 433.3V437.6" stroke="#2f28b6" stroke-width="1.10" stroke-opacity="0.8" fill="none"/>
<path d="M288.1 436.7H292.4M290.2 434.5V438.8" stroke="#2f28b6" stroke-width="1.10" stroke-opacity="0.8" fill="none"/>
<path d="M290.2 437.2H294.5M292.3 435.0V439.3" stroke="#2f28b6" stroke-width="1.10" stroke-opacity="0.8" fill="none"/>
<path d="M292.5 436.8H296.8M294.6 434.7V439.0" stroke="#2f28b6" stroke-width="1.10" stroke-opacity="0.8" fill="none"/>
<path d="M323.6 436.3H327.9M325.8 434.2V438.5" stroke="#2f28b6" stroke-width="1.10" stroke-opacity="0.8" fill="none"/>
<path d="M320.1 439.0H324.4M322.2 436.8V441.1" stroke="#2f28b6" stroke-width="1.10" stroke-opacity="0.8" fill="none"/>
<path d="M340.3 438.1H344.6M342.5 435.9V440.2" stroke="#2f28b6" stroke-width="1.10" stroke-opacity="0.8" fill="none"/>
<path d="M347.4 437.2H351.7M349.5 435.0V439.3" stroke="#2f28b6" stroke-width="1.10" stroke-opacity="0.8" fill="none"/>
<path d="M344.4 439.3H348.7M346.5 437.2V441.5" stroke="#2f28b6" stroke-width="1.10" stroke-opacity="0.8" fill="none"/>
<path d="M359.7 439.8H364.0M361.8 437.7V442.0" stroke="#2f28b6" stroke-width="1.10" stroke-opacity="0.8" fill="none"/>
<path d="M300.4 440.4H304.7M302.5 438.2V442.5" stroke="#2f28b6" stroke-width="1.10" stroke-opacity="0.8" fill="none"/>
<path d="M306.5 441.6H310.8M308.7 439.4V443.7" stroke="#2f28b6" stroke-width="1.10" stroke-opacity="0.8" fill="none"/>
<path d="M311.3 441.1H315.6M313.4 438.9V443.2" stroke="#2f28b6" stroke-width="1.10" stroke-opacity="0.8" fill="none"/>
<path d="M335.4 440.7H339.7M337.5 438.6V442.9" stroke="#2f28b6" stroke-width="1.10" stroke-opacity="0.8" fill="none"/>
<path d="M347.0 441.1H351.3M349.2 438.9V443.2" stroke="#2f28b6" stroke-width="1.10" stroke-opacity="0.8" fill="none"/>
<path d="M291.9 443.4H296.2M294.1 441.2V445.5" stroke="#2f28b6" stroke-width="1.10" stroke-opacity="0.8" fill="none"/>
<path d="M281.0 443.7H285.3M283.2 441.6V445.9" stroke="#2f28b6" stroke-width="1.10" stroke-opacity="0.8" fill="none"/>
<path d="M296.3 443.7H300.6M298.5 441.6V445.9" stroke="#2f28b6" stroke-width="1.10" stroke-opacity="0.8" fill="none"/>
<path d="M322.7 444.8H327.0M324.9 442.6V446.9" stroke="#2f28b6" stroke-width="1.10" stroke-opacity="0.8" fill="none"/>
<path d="M322.4 446.9H326.7M324.5 444.7V449.0" stroke="#2f28b6" stroke-width="1.10" stroke-opacity="0.8" fill="none"/>
<path d="M365.0 446.0H369.3M367.1 443.8V448.1" stroke="#2f28b6" stroke-width="1.10" stroke-opacity="0.8" fill="none"/>
<path d="M289.3 447.4H293.6M291.4 445.3V449.6" stroke="#2f28b6" stroke-width="1.10" stroke-opacity="0.8" fill="none"/>
<path d="M303.7 447.4H308.0M305.9 445.3V449.6" stroke="#2f28b6" stroke-width="1.10" stroke-opacity="0.8" fill="none"/>
<path d="M329.4 446.9H333.7M331.6 444.7V449.0" stroke="#2f28b6" stroke-width="1.10" stroke-opacity="0.8" fill="none"/>
<path d="M284.5 449.2H288.8M286.7 447.0V451.3" stroke="#2f28b6" stroke-width="1.10" stroke-opacity="0.8" fill="none"/>
<path d="M299.5 449.5H303.8M301.6 447.4V451.7" stroke="#2f28b6" stroke-width="1.10" stroke-opacity="0.8" fill="none"/>
<path d="M323.6 453.0H327.9M325.8 450.9V455.2" stroke="#2f28b6" stroke-width="1.10" stroke-opacity="0.8" fill="none"/>
<path d="M325.4 453.9H329.7M327.5 451.8V456.1" stroke="#2f28b6" stroke-width="1.10" stroke-opacity="0.8" fill="none"/>
<path d="M308.3 455.7H312.6M310.4 453.5V457.8" stroke="#2f28b6" stroke-width="1.10" stroke-opacity="0.8" fill="none"/>
<path d="M326.2 456.6H330.5M328.4 454.4V458.7" stroke="#2f28b6" stroke-width="1.10" stroke-opacity="0.8" fill="none"/>
<path d="M302.1 460.1H306.4M304.3 457.9V462.2" stroke="#2f28b6" stroke-width="1.10" stroke-opacity="0.8" fill="none"/>
<path d="M324.5 461.0H328.8M326.6 458.8V463.1" stroke="#2f28b6" stroke-width="1.10" stroke-opacity="0.8" fill="none"/>
<path d="M340.3 460.1H344.6M342.5 457.9V462.2" stroke="#2f28b6" stroke-width="1.10" stroke-opacity="0.8" fill="none"/>
<path d="M339.4 461.3H343.7M341.6 459.2V463.5" stroke="#2f28b6" stroke-width="1.10" stroke-opacity="0.8" fill="none"/>
<path d="M315.2 465.9H319.5M317.3 463.7V468.0" stroke="#2f28b6" stroke-width="1.10" stroke-opacity="0.8" fill="none"/>
<path d="M327.5 480.7H331.8M329.6 478.5V482.8" stroke="#2f28b6" stroke-width="1.10" stroke-opacity="0.8" fill="none"/>
<path d="M381.2 487.7H385.5M383.4 485.6V489.8" stroke="#2f28b6" stroke-width="1.10" stroke-opacity="0.8" fill="none"/>
<path d="M358.2 504.6H362.5M360.4 502.5V506.8" stroke="#2f28b6" stroke-width="1.10" stroke-opacity="0.8" fill="none"/>
<path d="M196.7 550.4L198.2 551.9L196.7 553.4L195.2 551.9Z" stroke="#e24048" stroke-width="1.10" stroke-opacity="0.62" fill="#e24048" fill-opacity="0.19"/>
<path d="M232.1 564.6L233.6 566.1L232.1 567.6L230.6 566.1Z" stroke="#e24048" stroke-width="1.10" stroke-opacity="0.62" fill="#e24048" fill-opacity="0.19"/>
<path d="M211.1 569.1L212.6 570.6L211.1 572.1L209.6 570.6Z" stroke="#e24048" stroke-width="1.10" stroke-opacity="0.62" fill="#e24048" fill-opacity="0.19"/>
<path d="M224.1 569.1L225.6 570.6L224.1 572.1L222.6 570.6Z" stroke="#e24048" stroke-width="1.10" stroke-opacity="0.62" fill="#e24048" fill-opacity="0.19"/>
<path d="M260.4 571.8L261.9 573.3L260.4 574.8L258.9 573.3Z" stroke="#e24048" stroke-width="1.10" stroke-opacity="0.62" fill="#e24048" fill-opacity="0.19"/>
<path d="M206.0 574.7L207.5 576.2L206.0 577.7L204.5 576.2Z" stroke="#e24048" stroke-width="1.10" stroke-opacity="0.62" fill="#e24048" fill-opacity="0.19"/>
<path d="M243.9 576.3L245.4 577.8L243.9 579.3L242.4 577.8Z" stroke="#e24048" stroke-width="1.10" stroke-opacity="0.62" fill="#e24048" fill-opacity="0.19"/>
<path d="M211.9 577.4L213.4 578.9L211.9 580.4L210.4 578.9Z" stroke="#e24048" stroke-width="1.10" stroke-opacity="0.62" fill="#e24048" fill-opacity="0.19"/>
<path d="M206.0 577.9L207.5 579.4L206.0 580.9L204.5 579.4Z" stroke="#e24048" stroke-width="1.10" stroke-opacity="0.62" fill="#e24048" fill-opacity="0.19"/>
<path d="M227.6 577.6L229.1 579.1L227.6 580.6L226.1 579.1Z" stroke="#e24048" stroke-width="1.10" stroke-opacity="0.62" fill="#e24048" fill-opacity="0.19"/>
<path d="M205.7 580.6L207.2 582.1L205.7 583.6L204.2 582.1Z" stroke="#e24048" stroke-width="1.10" stroke-opacity="0.62" fill="#e24048" fill-opacity="0.19"/>
<path d="M218.8 581.1L220.3 582.6L218.8 584.1L217.3 582.6Z" stroke="#e24048" stroke-width="1.10" stroke-opacity="0.62" fill="#e24048" fill-opacity="0.19"/>
<path d="M214.8 582.7L216.3 584.2L214.8 585.7L213.3 584.2Z" stroke="#e24048" stroke-width="1.10" stroke-opacity="0.62" fill="#e24048" fill-opacity="0.19"/>
<path d="M216.4 583.5L217.9 585.0L216.4 586.5L214.9 585.0Z" stroke="#e24048" stroke-width="1.10" stroke-opacity="0.62" fill="#e24048" fill-opacity="0.19"/>
<path d="M228.4 581.1L229.9 582.6L228.4 584.1L226.9 582.6Z" stroke="#e24048" stroke-width="1.10" stroke-opacity="0.62" fill="#e24048" fill-opacity="0.19"/>
<path d="M231.9 581.9L233.4 583.4L231.9 584.9L230.4 583.4Z" stroke="#e24048" stroke-width="1.10" stroke-opacity="0.62" fill="#e24048" fill-opacity="0.19"/>
<path d="M236.1 582.4L237.6 583.9L236.1 585.4L234.6 583.9Z" stroke="#e24048" stroke-width="1.10" stroke-opacity="0.62" fill="#e24048" fill-opacity="0.19"/>
<path d="M214.3 585.1L215.8 586.6L214.3 588.1L212.8 586.6Z" stroke="#e24048" stroke-width="1.10" stroke-opacity="0.62" fill="#e24048" fill-opacity="0.19"/>
<path d="M218.8 584.8L220.3 586.3L218.8 587.8L217.3 586.3Z" stroke="#e24048" stroke-width="1.10" stroke-opacity="0.62" fill="#e24048" fill-opacity="0.19"/>
<path d="M228.4 585.1L229.9 586.6L228.4 588.1L226.9 586.6Z" stroke="#e24048" stroke-width="1.10" stroke-opacity="0.62" fill="#e24048" fill-opacity="0.19"/>
<path d="M227.6 586.7L229.1 588.2L227.6 589.7L226.1 588.2Z" stroke="#e24048" stroke-width="1.10" stroke-opacity="0.62" fill="#e24048" fill-opacity="0.19"/>
<path d="M207.1 587.5L208.6 589.0L207.1 590.5L205.6 589.0Z" stroke="#e24048" stroke-width="1.10" stroke-opacity="0.62" fill="#e24048" fill-opacity="0.19"/>
<path d="M217.2 588.3L218.7 589.8L217.2 591.3L215.7 589.8Z" stroke="#e24048" stroke-width="1.10" stroke-opacity="0.62" fill="#e24048" fill-opacity="0.19"/>
<path d="M223.6 589.1L225.1 590.6L223.6 592.1L222.1 590.6Z" stroke="#e24048" stroke-width="1.10" stroke-opacity="0.62" fill="#e24048" fill-opacity="0.19"/>
<path d="M230.0 589.1L231.5 590.6L230.0 592.1L228.5 590.6Z" stroke="#e24048" stroke-width="1.10" stroke-opacity="0.62" fill="#e24048" fill-opacity="0.19"/>
<path d="M234.8 590.4L236.3 591.9L234.8 593.4L233.3 591.9Z" stroke="#e24048" stroke-width="1.10" stroke-opacity="0.62" fill="#e24048" fill-opacity="0.19"/>
<path d="M206.5 590.7L208.0 592.2L206.5 593.7L205.0 592.2Z" stroke="#e24048" stroke-width="1.10" stroke-opacity="0.62" fill="#e24048" fill-opacity="0.19"/>
<path d="M244.9 591.0L246.4 592.5L244.9 594.0L243.4 592.5Z" stroke="#e24048" stroke-width="1.10" stroke-opacity="0.62" fill="#e24048" fill-opacity="0.19"/>
<path d="M283.9 591.0L285.4 592.5L283.9 594.0L282.4 592.5Z" stroke="#e24048" stroke-width="1.10" stroke-opacity="0.62" fill="#e24048" fill-opacity="0.19"/>
<path d="M222.0 592.3L223.5 593.8L222.0 595.3L220.5 593.8Z" stroke="#e24048" stroke-width="1.10" stroke-opacity="0.62" fill="#e24048" fill-opacity="0.19"/>
<path d="M206.8 593.9L208.3 595.4L206.8 596.9L205.3 595.4Z" stroke="#e24048" stroke-width="1.10" stroke-opacity="0.62" fill="#e24048" fill-opacity="0.19"/>
<path d="M218.8 594.4L220.3 595.9L218.8 597.4L217.3 595.9Z" stroke="#e24048" stroke-width="1.10" stroke-opacity="0.62" fill="#e24048" fill-opacity="0.19"/>
<path d="M220.4 595.5L221.9 597.0L220.4 598.5L218.9 597.0Z" stroke="#e24048" stroke-width="1.10" stroke-opacity="0.62" fill="#e24048" fill-opacity="0.19"/>
<path d="M210.0 595.5L211.5 597.0L210.0 598.5L208.5 597.0Z" stroke="#e24048" stroke-width="1.10" stroke-opacity="0.62" fill="#e24048" fill-opacity="0.19"/>
<path d="M271.3 594.4L272.8 595.9L271.3 597.4L269.8 595.9Z" stroke="#e24048" stroke-width="1.10" stroke-opacity="0.62" fill="#e24048" fill-opacity="0.19"/>
<path d="M222.8 598.7L224.3 600.2L222.8 601.7L221.3 600.2Z" stroke="#e24048" stroke-width="1.10" stroke-opacity="0.62" fill="#e24048" fill-opacity="0.19"/>
<path d="M227.6 598.7L229.1 600.2L227.6 601.7L226.1 600.2Z" stroke="#e24048" stroke-width="1.10" stroke-opacity="0.62" fill="#e24048" fill-opacity="0.19"/>
<path d="M232.4 599.0L233.9 600.5L232.4 602.0L230.9 600.5Z" stroke="#e24048" stroke-width="1.10" stroke-opacity="0.62" fill="#e24048" fill-opacity="0.19"/>
<path d="M248.9 597.9L250.4 599.4L248.9 600.9L247.4 599.4Z" stroke="#e24048" stroke-width="1.10" stroke-opacity="0.62" fill="#e24048" fill-opacity="0.19"/>
<path d="M254.8 601.1L256.3 602.6L254.8 604.1L253.3 602.6Z" stroke="#e24048" stroke-width="1.10" stroke-opacity="0.62" fill="#e24048" fill-opacity="0.19"/>
<path d="M266.0 601.4L267.5 602.9L266.0 604.4L264.5 602.9Z" stroke="#e24048" stroke-width="1.10" stroke-opacity="0.62" fill="#e24048" fill-opacity="0.19"/>
<path d="M211.9 602.7L213.4 604.2L211.9 605.7L210.4 604.2Z" stroke="#e24048" stroke-width="1.10" stroke-opacity="0.62" fill="#e24048" fill-opacity="0.19"/>
<path d="M247.6 603.5L249.1 605.0L247.6 606.5L246.1 605.0Z" stroke="#e24048" stroke-width="1.10" stroke-opacity="0.62" fill="#e24048" fill-opacity="0.19"/>
<path d="M250.0 604.8L251.5 606.3L250.0 607.8L248.5 606.3Z" stroke="#e24048" stroke-width="1.10" stroke-opacity="0.62" fill="#e24048" fill-opacity="0.19"/>
<path d="M210.3 608.0L211.8 609.5L210.3 611.0L208.8 609.5Z" stroke="#e24048" stroke-width="1.10" stroke-opacity="0.62" fill="#e24048" fill-opacity="0.19"/>
<path d="M228.9 607.5L230.4 609.0L228.9 610.5L227.4 609.0Z" stroke="#e24048" stroke-width="1.10" stroke-opacity="0.62" fill="#e24048" fill-opacity="0.19"/>
<path d="M257.2 608.0L258.7 609.5L257.2 611.0L255.7 609.5Z" stroke="#e24048" stroke-width="1.10" stroke-opacity="0.62" fill="#e24048" fill-opacity="0.19"/>
<path d="M258.0 609.1L259.5 610.6L258.0 612.1L256.5 610.6Z" stroke="#e24048" stroke-width="1.10" stroke-opacity="0.62" fill="#e24048" fill-opacity="0.19"/>
<path d="M250.8 611.2L252.3 612.7L250.8 614.2L249.3 612.7Z" stroke="#e24048" stroke-width="1.10" stroke-opacity="0.62" fill="#e24048" fill-opacity="0.19"/>
<path d="M261.2 613.4L262.7 614.9L261.2 616.4L259.7 614.9Z" stroke="#e24048" stroke-width="1.10" stroke-opacity="0.62" fill="#e24048" fill-opacity="0.19"/>
<path d="M266.0 613.4L267.5 614.9L266.0 616.4L264.5 614.9Z" stroke="#e24048" stroke-width="1.10" stroke-opacity="0.62" fill="#e24048" fill-opacity="0.19"/>
<path d="M215.3 617.6L216.8 619.1L215.3 620.6L213.8 619.1Z" stroke="#e24048" stroke-width="1.10" stroke-opacity="0.62" fill="#e24048" fill-opacity="0.19"/>
<path d="M251.6 619.5L253.1 621.0L251.6 622.5L250.1 621.0Z" stroke="#e24048" stroke-width="1.10" stroke-opacity="0.62" fill="#e24048" fill-opacity="0.19"/>
<path d="M285.5 617.9L287.0 619.4L285.5 620.9L284.0 619.4Z" stroke="#e24048" stroke-width="1.10" stroke-opacity="0.62" fill="#e24048" fill-opacity="0.19"/>
<path d="M252.9 624.0L254.4 625.5L252.9 627.0L251.4 625.5Z" stroke="#e24048" stroke-width="1.10" stroke-opacity="0.62" fill="#e24048" fill-opacity="0.19"/>
<path d="M284.4 624.3L285.9 625.8L284.4 627.3L282.9 625.8Z" stroke="#e24048" stroke-width="1.10" stroke-opacity="0.62" fill="#e24048" fill-opacity="0.19"/>
<path d="M215.6 581.9L217.1 583.4L215.6 584.9L214.1 583.4Z" stroke="#e24048" stroke-width="1.10" stroke-opacity="0.62" fill="#e24048" fill-opacity="0.19"/>
<path d="M217.5 585.4L219.0 586.9L217.5 588.4L216.0 586.9Z" stroke="#e24048" stroke-width="1.10" stroke-opacity="0.62" fill="#e24048" fill-opacity="0.19"/>
<path d="M229.2 583.5L230.7 585.0L229.2 586.5L227.7 585.0Z" stroke="#e24048" stroke-width="1.10" stroke-opacity="0.62" fill="#e24048" fill-opacity="0.19"/>
<path d="M220.4 591.5L221.9 593.0L220.4 594.5L218.9 593.0Z" stroke="#e24048" stroke-width="1.10" stroke-opacity="0.62" fill="#e24048" fill-opacity="0.19"/>
<path d="M224.4 587.5L225.9 589.0L224.4 590.5L222.9 589.0Z" stroke="#e24048" stroke-width="1.10" stroke-opacity="0.62" fill="#e24048" fill-opacity="0.19"/>
<path d="M290.5 629.7L292.0 631.2L290.5 632.7L289.0 631.2Z" stroke="#e24048" stroke-width="1.10" stroke-opacity="0.62" fill="#e24048" fill-opacity="0.19"/>
<path d="M379.5 567.1L381.5 570.6H377.5Z" stroke="#26e630" stroke-width="1.00" stroke-opacity="0.85" fill="#26e630" fill-opacity="0.20"/>
<path d="M372.6 568.4L374.6 571.9H370.6Z" stroke="#26e630" stroke-width="1.00" stroke-opacity="0.85" fill="#26e630" fill-opacity="0.20"/>
<path d="M398.2 566.2L400.2 569.7H396.2Z" stroke="#26e630" stroke-width="1.00" stroke-opacity="0.85" fill="#26e630" fill-opacity="0.20"/>
<path d="M380.7 573.2L382.7 576.7H378.7Z" stroke="#26e630" stroke-width="1.00" stroke-opacity="0.85" fill="#26e630" fill-opacity="0.20"/>
<path d="M367.0 573.6L369.0 577.1H365.0Z" stroke="#26e630" stroke-width="1.00" stroke-opacity="0.85" fill="#26e630" fill-opacity="0.20"/>
<path d="M372.3 577.8L374.3 581.3H370.3Z" stroke="#26e630" stroke-width="1.00" stroke-opacity="0.85" fill="#26e630" fill-opacity="0.20"/>
<path d="M375.9 578.2L377.9 581.7H373.9Z" stroke="#26e630" stroke-width="1.00" stroke-opacity="0.85" fill="#26e630" fill-opacity="0.20"/>
<path d="M379.5 578.2L381.5 581.7H377.5Z" stroke="#26e630" stroke-width="1.00" stroke-opacity="0.85" fill="#26e630" fill-opacity="0.20"/>
<path d="M387.2 580.4L389.2 583.9H385.2Z" stroke="#26e630" stroke-width="1.00" stroke-opacity="0.85" fill="#26e630" fill-opacity="0.20"/>
<path d="M390.3 579.2L392.3 582.7H388.3Z" stroke="#26e630" stroke-width="1.00" stroke-opacity="0.85" fill="#26e630" fill-opacity="0.20"/>
<path d="M410.5 585.1L412.5 588.6H408.5Z" stroke="#26e630" stroke-width="1.00" stroke-opacity="0.85" fill="#26e630" fill-opacity="0.20"/>
<path d="M359.8 590.0L361.8 593.5H357.8Z" stroke="#26e630" stroke-width="1.00" stroke-opacity="0.85" fill="#26e630" fill-opacity="0.20"/>
<path d="M388.9 589.0L390.9 592.5H386.9Z" stroke="#26e630" stroke-width="1.00" stroke-opacity="0.85" fill="#26e630" fill-opacity="0.20"/>
<path d="M391.0 589.7L393.0 593.2H389.0Z" stroke="#26e630" stroke-width="1.00" stroke-opacity="0.85" fill="#26e630" fill-opacity="0.20"/>
<path d="M389.6 591.6L391.6 595.1H387.6Z" stroke="#26e630" stroke-width="1.00" stroke-opacity="0.85" fill="#26e630" fill-opacity="0.20"/>
<path d="M399.0 589.0L401.0 592.5H397.0Z" stroke="#26e630" stroke-width="1.00" stroke-opacity="0.85" fill="#26e630" fill-opacity="0.20"/>
<path d="M417.0 588.3L419.0 591.8H415.0Z" stroke="#26e630" stroke-width="1.00" stroke-opacity="0.85" fill="#26e630" fill-opacity="0.20"/>
<path d="M403.3 591.6L405.3 595.1H401.3Z" stroke="#26e630" stroke-width="1.00" stroke-opacity="0.85" fill="#26e630" fill-opacity="0.20"/>
<path d="M374.0 593.3L376.0 596.8H372.0Z" stroke="#26e630" stroke-width="1.00" stroke-opacity="0.85" fill="#26e630" fill-opacity="0.20"/>
<path d="M379.8 595.2L381.8 598.7H377.8Z" stroke="#26e630" stroke-width="1.00" stroke-opacity="0.85" fill="#26e630" fill-opacity="0.20"/>
<path d="M415.5 593.3L417.5 596.8H413.5Z" stroke="#26e630" stroke-width="1.00" stroke-opacity="0.85" fill="#26e630" fill-opacity="0.20"/>
<path d="M393.2 594.0L395.2 597.5H391.2Z" stroke="#26e630" stroke-width="1.00" stroke-opacity="0.85" fill="#26e630" fill-opacity="0.20"/>
<path d="M396.8 595.2L398.8 598.7H394.8Z" stroke="#26e630" stroke-width="1.00" stroke-opacity="0.85" fill="#26e630" fill-opacity="0.20"/>
<path d="M399.0 596.2L401.0 599.7H397.0Z" stroke="#26e630" stroke-width="1.00" stroke-opacity="0.85" fill="#26e630" fill-opacity="0.20"/>
<path d="M411.2 596.2L413.2 599.7H409.2Z" stroke="#26e630" stroke-width="1.00" stroke-opacity="0.85" fill="#26e630" fill-opacity="0.20"/>
<path d="M388.6 598.4L390.6 601.9H386.6Z" stroke="#26e630" stroke-width="1.00" stroke-opacity="0.85" fill="#26e630" fill-opacity="0.20"/>
<path d="M403.3 597.6L405.3 601.1H401.3Z" stroke="#26e630" stroke-width="1.00" stroke-opacity="0.85" fill="#26e630" fill-opacity="0.20"/>
<path d="M406.9 598.4L408.9 601.9H404.9Z" stroke="#26e630" stroke-width="1.00" stroke-opacity="0.85" fill="#26e630" fill-opacity="0.20"/>
<path d="M420.1 597.6L422.1 601.1H418.1Z" stroke="#26e630" stroke-width="1.00" stroke-opacity="0.85" fill="#26e630" fill-opacity="0.20"/>
<path d="M393.9 599.1L395.9 602.6H391.9Z" stroke="#26e630" stroke-width="1.00" stroke-opacity="0.85" fill="#26e630" fill-opacity="0.20"/>
<path d="M397.5 599.8L399.5 603.3H395.5Z" stroke="#26e630" stroke-width="1.00" stroke-opacity="0.85" fill="#26e630" fill-opacity="0.20"/>
<path d="M400.4 600.5L402.4 604.0H398.4Z" stroke="#26e630" stroke-width="1.00" stroke-opacity="0.85" fill="#26e630" fill-opacity="0.20"/>
<path d="M382.8 600.5L384.8 604.0H380.8Z" stroke="#26e630" stroke-width="1.00" stroke-opacity="0.85" fill="#26e630" fill-opacity="0.20"/>
<path d="M404.0 602.7L406.0 606.2H402.0Z" stroke="#26e630" stroke-width="1.00" stroke-opacity="0.85" fill="#26e630" fill-opacity="0.20"/>
<path d="M404.7 604.1L406.7 607.6H402.7Z" stroke="#26e630" stroke-width="1.00" stroke-opacity="0.85" fill="#26e630" fill-opacity="0.20"/>
<path d="M395.8 603.4L397.8 606.9H393.8Z" stroke="#26e630" stroke-width="1.00" stroke-opacity="0.85" fill="#26e630" fill-opacity="0.20"/>
<path d="M415.5 604.1L417.5 607.6H413.5Z" stroke="#26e630" stroke-width="1.00" stroke-opacity="0.85" fill="#26e630" fill-opacity="0.20"/>
<path d="M418.8 604.1L420.8 607.6H416.8Z" stroke="#26e630" stroke-width="1.00" stroke-opacity="0.85" fill="#26e630" fill-opacity="0.20"/>
<path d="M392.5 605.6L394.5 609.1H390.5Z" stroke="#26e630" stroke-width="1.00" stroke-opacity="0.85" fill="#26e630" fill-opacity="0.20"/>
<path d="M397.5 607.0L399.5 610.5H395.5Z" stroke="#26e630" stroke-width="1.00" stroke-opacity="0.85" fill="#26e630" fill-opacity="0.20"/>
<path d="M411.2 607.7L413.2 611.2H409.2Z" stroke="#26e630" stroke-width="1.00" stroke-opacity="0.85" fill="#26e630" fill-opacity="0.20"/>
<path d="M390.3 609.9L392.3 613.4H388.3Z" stroke="#26e630" stroke-width="1.00" stroke-opacity="0.85" fill="#26e630" fill-opacity="0.20"/>
<path d="M409.8 609.9L411.8 613.4H407.8Z" stroke="#26e630" stroke-width="1.00" stroke-opacity="0.85" fill="#26e630" fill-opacity="0.20"/>
<path d="M410.5 611.3L412.5 614.8H408.5Z" stroke="#26e630" stroke-width="1.00" stroke-opacity="0.85" fill="#26e630" fill-opacity="0.20"/>
<path d="M416.5 610.6L418.5 614.1H414.5Z" stroke="#26e630" stroke-width="1.00" stroke-opacity="0.85" fill="#26e630" fill-opacity="0.20"/>
<path d="M406.9 612.0L408.9 615.5H404.9Z" stroke="#26e630" stroke-width="1.00" stroke-opacity="0.85" fill="#26e630" fill-opacity="0.20"/>
<path d="M404.0 613.8L406.0 617.3H402.0Z" stroke="#26e630" stroke-width="1.00" stroke-opacity="0.85" fill="#26e630" fill-opacity="0.20"/>
<path d="M402.6 615.9L404.6 619.4H400.6Z" stroke="#26e630" stroke-width="1.00" stroke-opacity="0.85" fill="#26e630" fill-opacity="0.20"/>
<path d="M417.4 617.1L419.4 620.6H415.4Z" stroke="#26e630" stroke-width="1.00" stroke-opacity="0.85" fill="#26e630" fill-opacity="0.20"/>
<path d="M401.1 618.5L403.1 622.0H399.1Z" stroke="#26e630" stroke-width="1.00" stroke-opacity="0.85" fill="#26e630" fill-opacity="0.20"/>
<path d="M427.3 616.4L429.3 619.9H425.3Z" stroke="#26e630" stroke-width="1.00" stroke-opacity="0.85" fill="#26e630" fill-opacity="0.20"/>
<path d="M424.2 619.2L426.2 622.7H422.2Z" stroke="#26e630" stroke-width="1.00" stroke-opacity="0.85" fill="#26e630" fill-opacity="0.20"/>
<path d="M388.9 621.8L390.9 625.3H386.9Z" stroke="#26e630" stroke-width="1.00" stroke-opacity="0.85" fill="#26e630" fill-opacity="0.20"/>
<path d="M415.2 622.1L417.2 625.6H413.2Z" stroke="#26e630" stroke-width="1.00" stroke-opacity="0.85" fill="#26e630" fill-opacity="0.20"/>
<path d="M417.0 632.9L419.0 636.4H415.0Z" stroke="#26e630" stroke-width="1.00" stroke-opacity="0.85" fill="#26e630" fill-opacity="0.20"/>
<path d="M390.0 590.2L392.0 593.7H388.0Z" stroke="#26e630" stroke-width="1.00" stroke-opacity="0.85" fill="#26e630" fill-opacity="0.20"/>
<path d="M389.2 590.7L391.2 594.2H387.2Z" stroke="#26e630" stroke-width="1.00" stroke-opacity="0.85" fill="#26e630" fill-opacity="0.20"/>
<path d="M404.4 603.1L406.4 606.6H402.4Z" stroke="#26e630" stroke-width="1.00" stroke-opacity="0.85" fill="#26e630" fill-opacity="0.20"/>
<path d="M405.2 603.4L407.2 606.9H403.2Z" stroke="#26e630" stroke-width="1.00" stroke-opacity="0.85" fill="#26e630" fill-opacity="0.20"/>
<path d="M410.1 610.3L412.1 613.8H408.1Z" stroke="#26e630" stroke-width="1.00" stroke-opacity="0.85" fill="#26e630" fill-opacity="0.20"/>
<path d="M409.3 609.5L411.3 613.0H407.3Z" stroke="#26e630" stroke-width="1.00" stroke-opacity="0.85" fill="#26e630" fill-opacity="0.20"/>
<path d="M397.5 597.6L399.5 601.1H395.5Z" stroke="#26e630" stroke-width="1.00" stroke-opacity="0.85" fill="#26e630" fill-opacity="0.20"/>
<path d="M398.7 598.8L400.7 602.3H396.7Z" stroke="#26e630" stroke-width="1.00" stroke-opacity="0.85" fill="#26e630" fill-opacity="0.20"/>
<path d="M399.7 597.4L401.7 600.9H397.7Z" stroke="#26e630" stroke-width="1.00" stroke-opacity="0.85" fill="#26e630" fill-opacity="0.20"/>
<path d="M211.4 644.4v5.6M244.0 644.4v5.6M276.7 644.4v5.6M309.3 644.4v5.6M341.9 644.4v5.6M374.6 644.4v5.6M407.2 644.4v5.6M188.8 631.8h-5.4M188.8 587.5h-5.4M188.8 543.2h-5.4M188.8 498.9h-5.4M188.8 454.6h-5.4M188.8 410.3h-5.4" stroke="#686868" stroke-width="0.9" fill="none"/>
<text transform="translate(211.4 663.1) scale(0.9 1)" font-size="9" fill="#333333" stroke="#333333" stroke-width="0.12" text-anchor="middle">-15</text>
<text transform="translate(244.0 663.1) scale(0.9 1)" font-size="9" fill="#333333" stroke="#333333" stroke-width="0.12" text-anchor="middle">-10</text>
<text transform="translate(276.7 663.1) scale(0.9 1)" font-size="9" fill="#333333" stroke="#333333" stroke-width="0.12" text-anchor="middle">-5</text>
<text transform="translate(309.3 663.1) scale(0.9 1)" font-size="9" fill="#333333" stroke="#333333" stroke-width="0.12" text-anchor="middle">0</text>
<text transform="translate(341.9 663.1) scale(0.9 1)" font-size="9" fill="#333333" stroke="#333333" stroke-width="0.12" text-anchor="middle">5</text>
<text transform="translate(374.6 663.1) scale(0.9 1)" font-size="9" fill="#333333" stroke="#333333" stroke-width="0.12" text-anchor="middle">10</text>
<text transform="translate(407.2 663.1) scale(0.9 1)" font-size="9" fill="#333333" stroke="#333333" stroke-width="0.12" text-anchor="middle">15</text>
<text transform="translate(177.0 631.8) rotate(-90) scale(0.9 1)" font-size="9" fill="#333333" stroke="#333333" stroke-width="0.12" text-anchor="middle">-10</text>
<text transform="translate(177.0 587.5) rotate(-90) scale(0.9 1)" font-size="9" fill="#333333" stroke="#333333" stroke-width="0.12" text-anchor="middle">-5</text>
<text transform="translate(177.0 543.2) rotate(-90) scale(0.9 1)" font-size="9" fill="#333333" stroke="#333333" stroke-width="0.12" text-anchor="middle">0</text>
<text transform="translate(177.0 498.9) rotate(-90) scale(0.9 1)" font-size="9" fill="#333333" stroke="#333333" stroke-width="0.12" text-anchor="middle">5</text>
<text transform="translate(177.0 454.6) rotate(-90) scale(0.9 1)" font-size="9" fill="#333333" stroke="#333333" stroke-width="0.12" text-anchor="middle">10</text>
<text transform="translate(177.0 410.3) rotate(-90) scale(0.9 1)" font-size="9" fill="#333333" stroke="#333333" stroke-width="0.12" text-anchor="middle">15</text>
<text x="311.6" y="682.3" font-size="8.4" fill="#333333" stroke="#333333" stroke-width="0.15" text-anchor="middle">PC1</text>
<text transform="translate(156.8 510.9) rotate(-90)" font-size="8.5" fill="#333333" stroke="#333333" stroke-width="0.15" text-anchor="middle">PC2</text>
<rect x="384.4" y="378" width="51.5" height="52.1" fill="#fff"/>
<circle cx="389.4" cy="392.4" r="2.10" stroke="#d84458" stroke-width="1.30" fill="none"/>
<text transform="translate(399.0 396.4) scale(1.045 1)" font-size="10" fill="#1c1c1c" stroke="#1c1c1c" stroke-width="0.3">SKBR3</text>
<path d="M389.4 402.0L393.0 408.3H385.8Z" stroke="#26e630" stroke-width="1.25" stroke-opacity="1" fill="#26e630" fill-opacity="0.15"/>
<text transform="translate(399.0 409.6) scale(1.045 1)" font-size="10" fill="#1c1c1c" stroke="#1c1c1c" stroke-width="0.3">K562</text>
<path d="M385.7 418.9H393.1M389.4 415.2V422.6" stroke="#2f28b6" stroke-width="1.38" stroke-opacity="1" fill="none"/>
<text transform="translate(399.0 422.9) scale(1.045 1)" font-size="10" fill="#1c1c1c" stroke="#1c1c1c" stroke-width="0.3">A549</text>
<rect x="188.8" y="377.4" width="247.6" height="267.0" fill="none" stroke="#7c7c7c" stroke-width="1.15"/>
<text x="146.7" y="369" font-size="14" font-weight="bold" fill="#000" textLength="17.3" lengthAdjust="spacingAndGlyphs">(C)</text>
</g>
</g>
</svg>
</body></html>
